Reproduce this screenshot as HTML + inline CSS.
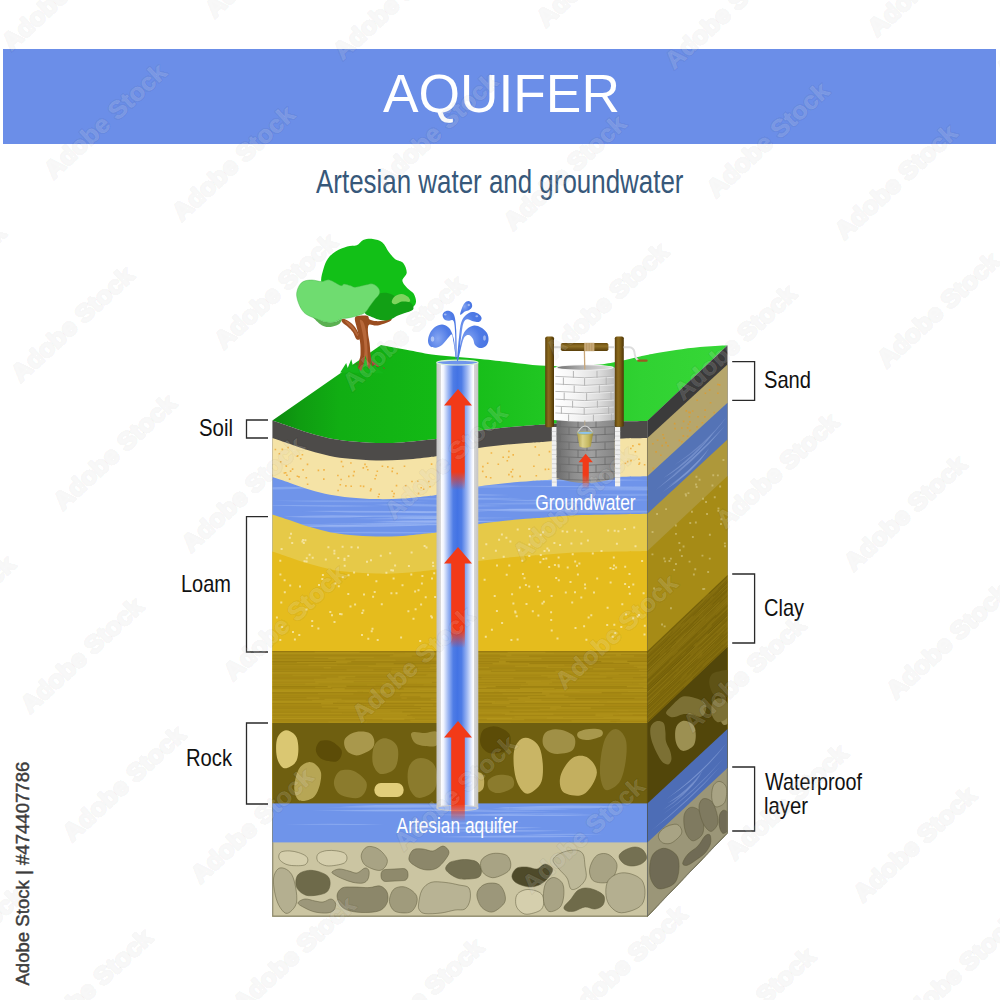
<!DOCTYPE html>
<html lang="en"><head><meta charset="utf-8"><title>Aquifer</title>
<style>html,body{margin:0;padding:0;background:#fff}svg{display:block}</style></head>
<body>
<svg width="1000" height="1000" viewBox="0 0 1000 1000">
<defs>

<linearGradient id="gGreen" gradientUnits="userSpaceOnUse" x1="272" y1="0" x2="728" y2="0">
 <stop offset="0" stop-color="#0c880f"/><stop offset="0.06" stop-color="#0f9c11"/><stop offset="0.15" stop-color="#11ae13"/><stop offset="0.37" stop-color="#13ba15"/><stop offset="0.59" stop-color="#20c622"/><stop offset="0.81" stop-color="#30d232"/><stop offset="1" stop-color="#37d737"/>
</linearGradient>
<linearGradient id="gTube" gradientUnits="userSpaceOnUse" x1="436.5" y1="0" x2="478.3" y2="0">
 <stop offset="0" stop-color="#c4c4c4"/><stop offset="0.095" stop-color="#d6d6d6"/><stop offset="0.105" stop-color="#ffffff"/>
 <stop offset="0.17" stop-color="#f0f4fe"/><stop offset="0.28" stop-color="#9db7f3"/><stop offset="0.4" stop-color="#4f7de6"/><stop offset="0.5" stop-color="#4373e4"/><stop offset="0.6" stop-color="#4f7de6"/>
 <stop offset="0.73" stop-color="#9db7f3"/><stop offset="0.85" stop-color="#f0f4fe"/><stop offset="0.893" stop-color="#ffffff"/><stop offset="0.905" stop-color="#d6d6d6"/><stop offset="1" stop-color="#c4c4c4"/>
</linearGradient>
<linearGradient id="gArrow" x1="0" y1="0" x2="0" y2="1">
 <stop offset="0" stop-color="#f23a18"/><stop offset="0.78" stop-color="#f23a18"/><stop offset="1" stop-color="#f23a18" stop-opacity="0"/>
</linearGradient>
<linearGradient id="gPost" x1="0" y1="0" x2="1" y2="0">
 <stop offset="0" stop-color="#5a3f0a"/><stop offset="0.35" stop-color="#8a6a1e"/><stop offset="0.6" stop-color="#7d5d16"/><stop offset="1" stop-color="#4e3606"/>
</linearGradient>
<linearGradient id="gLog" x1="0" y1="0" x2="0" y2="1">
 <stop offset="0" stop-color="#6a4c0e"/><stop offset="0.4" stop-color="#8f7026"/><stop offset="1" stop-color="#5a3f0a"/>
</linearGradient>

<clipPath id="cClay"><rect x="272.4" y="651" width="375.0" height="72"/></clipPath>
<clipPath id="cClayS"><path d="M647.4,651 L727.5,575 L727.5,647 L647.4,723Z"/></clipPath>
<clipPath id="cGW"><path d="M272.4,477 C275.3,478 283.7,480.8 290,482.9 C296.3,485.1 303.3,487.7 310,489.7 C316.7,491.6 323.3,493.5 330,494.8 C336.7,496.1 342.3,496.8 350,497.5 C357.7,498.3 367.2,499 376,499.1 C384.8,499.3 393.7,499.1 402.5,498.6 C411.3,498 423.2,496.5 428.8,495.9 C434.4,495.3 431.3,495.7 436,494.9 C440.7,494.1 449.9,492.4 457,491 C464.1,489.6 470.8,487.9 478.8,486.6 C486.8,485.3 496.3,484.2 505,483.3 C513.7,482.4 524.3,481.6 531,481.1 C537.7,480.6 538.5,480.6 545,480.1 C551.5,479.7 561.7,478.6 570,478.2 C578.3,477.7 586.2,477.5 595,477.3 C603.8,477 614.3,476.9 623,476.7 C631.7,476.5 643.3,476.3 647.4,476.2 L647.4,513.7 C643.3,513.8 631.7,514 623,514.2 C614.3,514.4 603.8,514.5 595,514.8 C586.2,515 578.3,515.2 570,515.6 C561.7,516.1 551.5,517.1 545,517.6 C538.5,518.1 537.7,518 531,518.6 C524.3,519.1 513.7,519.8 505,520.8 C496.3,521.7 486.8,522.8 478.8,524 C470.8,525.3 464.1,527 457,528.4 C449.9,529.8 440.7,531.6 436,532.4 C431.3,533.2 434.4,532.7 428.8,533.3 C423.2,533.9 411.3,535.4 402.5,536 C393.7,536.5 384.8,536.7 376,536.6 C367.2,536.4 357.7,535.7 350,535 C342.3,534.2 336.7,533.5 330,532.2 C323.3,530.9 316.7,529.1 310,527.1 C303.3,525.1 296.3,522.5 290,520.3 C283.7,518.2 275.3,515.4 272.4,514.4Z"/></clipPath>
<clipPath id="cRock"><rect x="272.4" y="723" width="375.0" height="80.4"/></clipPath>
<clipPath id="cRockS"><path d="M647.4,723 L727.5,647 L727.5,729 L647.4,803.4Z"/></clipPath>
<clipPath id="cBot"><rect x="272.4" y="842.4" width="375.0" height="74"/></clipPath>
<clipPath id="cBotS"><path d="M647.4,842.4 L727.5,768 L727.5,833 L647.4,916.4Z"/></clipPath>
<linearGradient id="gA0" gradientUnits="userSpaceOnUse" x1="0" y1="389" x2="0" y2="490"><stop offset="0" stop-color="#f23a18"/><stop offset="0.82" stop-color="#f23a18"/><stop offset="1" stop-color="#f23a18" stop-opacity="0"/></linearGradient>
<linearGradient id="gA1" gradientUnits="userSpaceOnUse" x1="0" y1="547" x2="0" y2="648"><stop offset="0" stop-color="#f23a18"/><stop offset="0.82" stop-color="#f23a18"/><stop offset="1" stop-color="#f23a18" stop-opacity="0"/></linearGradient>
<linearGradient id="gA2" gradientUnits="userSpaceOnUse" x1="0" y1="721" x2="0" y2="822"><stop offset="0" stop-color="#f23a18"/><stop offset="0.82" stop-color="#f23a18"/><stop offset="1" stop-color="#f23a18" stop-opacity="0"/></linearGradient>

<linearGradient id="gWhiteCyl" gradientUnits="userSpaceOnUse" x1="555.4" y1="0" x2="613.8" y2="0">
 <stop offset="0" stop-color="#ffffff"/><stop offset="0.35" stop-color="#f4f4f4"/><stop offset="0.75" stop-color="#dcdcdc"/><stop offset="1" stop-color="#bdbdbd"/>
</linearGradient>
<linearGradient id="gGrayCyl" gradientUnits="userSpaceOnUse" x1="556.6" y1="0" x2="614.8" y2="0">
 <stop offset="0" stop-color="#6c6c6c"/><stop offset="0.3" stop-color="#8e8e8e"/><stop offset="0.6" stop-color="#a0a0a0"/><stop offset="1" stop-color="#858585"/>
</linearGradient>
<linearGradient id="gRim" gradientUnits="userSpaceOnUse" x1="555.4" y1="0" x2="613.8" y2="0">
 <stop offset="0" stop-color="#6e6e6e"/><stop offset="0.5" stop-color="#b5b5b5"/><stop offset="1" stop-color="#e2e2e2"/>
</linearGradient>
<linearGradient id="gBucket" gradientUnits="userSpaceOnUse" x1="577" y1="0" x2="593.2" y2="0">
 <stop offset="0" stop-color="#a89a48"/><stop offset="0.35" stop-color="#ddd28a"/><stop offset="0.7" stop-color="#c5b862"/><stop offset="1" stop-color="#978838"/>
</linearGradient>
<linearGradient id="gWA" gradientUnits="userSpaceOnUse" x1="0" y1="453.8" x2="0" y2="489"><stop offset="0" stop-color="#f23a18"/><stop offset="0.6" stop-color="#f23a18"/><stop offset="1" stop-color="#f23a18" stop-opacity="0"/></linearGradient>

<radialGradient id="gDrop" cx="0.35" cy="0.4" r="0.8"><stop offset="0" stop-color="#86a6f2"/><stop offset="0.5" stop-color="#4f7be6"/><stop offset="1" stop-color="#4571e0"/></radialGradient>
</defs>
<rect x="3" y="49" width="993" height="95" fill="#6b8ee8"/>
<text x="501.4" y="111.5" font-family="'Liberation Sans', Arial, sans-serif" font-size="54" fill="#ffffff" text-anchor="middle" textLength="237" lengthAdjust="spacingAndGlyphs">AQUIFER</text>
<text x="316" y="192.6" font-family="'Liberation Sans', Arial, sans-serif" font-size="32.7" fill="#37587a" textLength="367.5" lengthAdjust="spacingAndGlyphs">Artesian water and groundwater</text>
<path d="M272.4,420.4 C275.3,421.4 283.7,424.3 290,426.4 C296.3,428.5 303.3,431.2 310,433.2 C316.7,435.2 323.3,437.1 330,438.4 C336.7,439.7 342.3,440.4 350,441.2 C357.7,441.9 367.2,442.7 376,442.9 C384.8,443.1 393.7,442.9 402.5,442.4 C411.3,441.9 423.2,440.4 428.8,439.8 C434.4,439.2 431.3,439.7 436,438.9 C440.7,438.1 449.9,436.4 457,435 C464.1,433.6 470.8,431.9 478.8,430.7 C486.8,429.4 496.3,428.4 505,427.5 C513.7,426.6 524.3,425.9 531,425.4 C537.7,424.9 538.5,425 545,424.5 C551.5,424 561.7,423.1 570,422.6 C578.3,422.2 586.2,422 595,421.8 C603.8,421.6 614.3,421.5 623,421.3 C631.7,421.1 643.3,421 647.4,420.9 L727.4,345.2 C722.8,345.5 708.6,346.2 700,347 C691.4,347.8 684,348.8 676,350 C668,351.2 658,352.9 652,354 C646,355.1 645.3,355.2 640,356.4 C634.7,357.6 626.7,359.6 620,361 C613.3,362.4 608.3,363.6 600,364.5 C591.7,365.4 580,366 570,366.2 C560,366.4 550,366.3 540,365.6 C530,364.9 520,363.3 510,362.2 C500,361.1 492.3,360.2 480,359 C467.7,357.8 447.7,356.4 436,355 C424.3,353.6 419.2,352.2 410,350.5 C400.8,348.8 385.8,345.9 381,345Z" fill="url(#gGreen)"/>
<path d="M272.4,420.4 C275.3,421.4 283.7,424.3 290,426.4 C296.3,428.5 303.3,431.2 310,433.2 C316.7,435.2 323.3,437.1 330,438.4 C336.7,439.7 342.3,440.4 350,441.2 C357.7,441.9 367.2,442.7 376,442.9 C384.8,443.1 393.7,442.9 402.5,442.4 C411.3,441.9 423.2,440.4 428.8,439.8 C434.4,439.2 431.3,439.7 436,438.9 C440.7,438.1 449.9,436.4 457,435 C464.1,433.6 470.8,431.9 478.8,430.7 C486.8,429.4 496.3,428.4 505,427.5 C513.7,426.6 524.3,425.9 531,425.4 C537.7,424.9 538.5,425 545,424.5 C551.5,424 561.7,423.1 570,422.6 C578.3,422.2 586.2,422 595,421.8 C603.8,421.6 614.3,421.5 623,421.3 C631.7,421.1 643.3,421 647.4,420.9 L647.4,916.4 L272.4,916.4Z" fill="#4d4b49"/>
<path d="M272.4,438 C275.3,439 283.7,441.9 290,444 C296.3,446.1 303.3,448.8 310,450.8 C316.7,452.7 323.3,454.6 330,455.9 C336.7,457.2 342.3,458 350,458.7 C357.7,459.4 367.2,460.2 376,460.4 C384.8,460.5 393.7,460.4 402.5,459.8 C411.3,459.3 423.2,457.8 428.8,457.2 C434.4,456.6 431.3,457.1 436,456.3 C440.7,455.5 449.9,453.7 457,452.4 C464.1,451 470.8,449.3 478.8,448 C486.8,446.8 496.3,445.7 505,444.8 C513.7,443.9 524.3,443.2 531,442.7 C537.7,442.2 538.5,442.2 545,441.7 C551.5,441.3 561.7,440.3 570,439.8 C578.3,439.3 586.2,439.2 595,439 C603.8,438.7 614.3,438.6 623,438.4 C631.7,438.3 643.3,438.1 647.4,438 L647.4,916.4 L272.4,916.4Z" fill="#f5e3a6"/>
<path d="M272.4,477 C275.3,478 283.7,480.8 290,482.9 C296.3,485.1 303.3,487.7 310,489.7 C316.7,491.6 323.3,493.5 330,494.8 C336.7,496.1 342.3,496.8 350,497.5 C357.7,498.3 367.2,499 376,499.1 C384.8,499.3 393.7,499.1 402.5,498.6 C411.3,498 423.2,496.5 428.8,495.9 C434.4,495.3 431.3,495.7 436,494.9 C440.7,494.1 449.9,492.4 457,491 C464.1,489.6 470.8,487.9 478.8,486.6 C486.8,485.3 496.3,484.2 505,483.3 C513.7,482.4 524.3,481.6 531,481.1 C537.7,480.6 538.5,480.6 545,480.1 C551.5,479.7 561.7,478.6 570,478.2 C578.3,477.7 586.2,477.5 595,477.3 C603.8,477 614.3,476.9 623,476.7 C631.7,476.5 643.3,476.3 647.4,476.2 L647.4,916.4 L272.4,916.4Z" fill="#6f94ea"/>
<path d="M272.4,514.4 C275.3,515.4 283.7,518.2 290,520.3 C296.3,522.5 303.3,525.1 310,527.1 C316.7,529.1 323.3,530.9 330,532.2 C336.7,533.5 342.3,534.2 350,535 C357.7,535.7 367.2,536.4 376,536.6 C384.8,536.7 393.7,536.5 402.5,536 C411.3,535.4 423.2,533.9 428.8,533.3 C434.4,532.7 431.3,533.2 436,532.4 C440.7,531.6 449.9,529.8 457,528.4 C464.1,527 470.8,525.3 478.8,524 C486.8,522.8 496.3,521.7 505,520.8 C513.7,519.8 524.3,519.1 531,518.6 C537.7,518 538.5,518.1 545,517.6 C551.5,517.1 561.7,516.1 570,515.6 C578.3,515.2 586.2,515 595,514.8 C603.8,514.5 614.3,514.4 623,514.2 C631.7,514 643.3,513.8 647.4,513.7 L647.4,916.4 L272.4,916.4Z" fill="#e6c948"/>
<path d="M272.4,551.4 C275.3,552.4 283.7,555.2 290,557.4 C296.3,559.5 303.3,562.1 310,564.1 C316.7,566.1 323.3,567.9 330,569.2 C336.7,570.6 342.3,571.3 350,572 C357.7,572.7 367.2,573.4 376,573.6 C384.8,573.8 393.7,573.6 402.5,573 C411.3,572.5 423.2,571 428.8,570.4 C434.4,569.8 431.3,570.3 436,569.5 C440.7,568.6 449.9,566.9 457,565.5 C464.1,564.1 470.8,562.4 478.8,561.1 C486.8,559.9 496.3,558.8 505,557.9 C513.7,557 524.3,556.2 531,555.7 C537.7,555.2 538.5,555.3 545,554.8 C551.5,554.3 561.7,553.3 570,552.8 C578.3,552.3 586.2,552.2 595,551.9 C603.8,551.7 614.3,551.5 623,551.4 C631.7,551.2 643.3,551 647.4,550.9 L647.4,916.4 L272.4,916.4Z" fill="#e5bc1d"/>
<rect x="272.4" y="651" width="375.0" height="265.4" fill="#ad8f17"/>
<rect x="272.4" y="723" width="375.0" height="193.39999999999998" fill="#6f5f10"/>
<rect x="272.4" y="803.4" width="375.0" height="113.0" fill="#6f94ea"/>
<rect x="272.4" y="842.4" width="375.0" height="74.0" fill="#cbc5a2"/>
<path d="M647.4,420.8 L727.5,345.2 L727.5,833 L647.4,916.4Z" fill="#3b3b3b"/>
<path d="M647.4,438 L727.5,364.4 L727.5,833 L647.4,916.4Z" fill="#b6a66c"/>
<path d="M647.4,476.2 L727.5,402.8 L727.5,833 L647.4,916.4Z" fill="#5473b6"/>
<path d="M647.4,513.7 L727.5,439.4 L727.5,833 L647.4,916.4Z" fill="#ae983a"/>
<path d="M647.4,550.9 L727.5,476 L727.5,833 L647.4,916.4Z" fill="#a68b16"/>
<path d="M647.4,651 L727.5,575 L727.5,833 L647.4,916.4Z" fill="#836c0d"/>
<path d="M647.4,723 L727.5,647 L727.5,833 L647.4,916.4Z" fill="#52460a"/>
<path d="M647.4,803.4 L727.5,729 L727.5,833 L647.4,916.4Z" fill="#4d6db6"/>
<path d="M647.4,842.4 L727.5,768 L727.5,833 L647.4,916.4Z" fill="#9b9678"/>
<path d="M482.1,465.8h1.6v1.6h-1.6zM508.1,450.6h1.6v1.6h-1.6zM387,466.1h1.6v1.6h-1.6zM638.8,462.2h1.6v1.6h-1.6zM280,461h1.6v1.6h-1.6zM296.5,455.4h1.6v1.6h-1.6zM364.2,463.6h1.6v1.6h-1.6zM511.9,468.7h1.6v1.6h-1.6zM377.6,496h1.6v1.6h-1.6zM643.8,463.9h1.6v1.6h-1.6zM391.4,470.6h1.6v1.6h-1.6zM381.6,465.5h1.6v1.6h-1.6zM422.9,488.4h1.6v1.6h-1.6zM417.8,492.6h1.6v1.6h-1.6zM274.6,448.7h1.6v1.6h-1.6zM638.1,443.5h1.6v1.6h-1.6zM507.9,456.3h1.6v1.6h-1.6zM306.7,463.6h1.6v1.6h-1.6zM632.1,445.1h1.6v1.6h-1.6zM365.8,466h1.6v1.6h-1.6zM296.6,475.5h1.6v1.6h-1.6zM340.3,478.7h1.6v1.6h-1.6zM345.1,485.1h1.6v1.6h-1.6zM323,478.3h1.6v1.6h-1.6zM317.6,469.6h1.6v1.6h-1.6zM353.4,470.8h1.6v1.6h-1.6zM634.6,451h1.6v1.6h-1.6zM352.6,474.8h1.6v1.6h-1.6zM370.2,488.3h1.6v1.6h-1.6zM396.4,472.7h1.6v1.6h-1.6zM301.6,453.9h1.6v1.6h-1.6zM497.5,463.5h1.6v1.6h-1.6zM630.2,459.8h1.6v1.6h-1.6zM342.2,465.7h1.6v1.6h-1.6zM367,469h1.6v1.6h-1.6zM548.7,450.8h1.6v1.6h-1.6zM626.9,460.8h1.6v1.6h-1.6zM430.8,463.3h1.6v1.6h-1.6zM288.8,478.3h1.6v1.6h-1.6zM362.8,485.6h1.6v1.6h-1.6zM369.7,490h1.6v1.6h-1.6zM339.5,483.9h1.6v1.6h-1.6zM299.9,457.9h1.6v1.6h-1.6zM481.9,470.6h1.6v1.6h-1.6zM378.4,493.4h1.6v1.6h-1.6zM350.1,462.2h1.6v1.6h-1.6zM374.3,477.9h1.6v1.6h-1.6zM296.8,455.1h1.6v1.6h-1.6zM411.2,480.7h1.6v1.6h-1.6zM323.2,469.1h1.6v1.6h-1.6zM638.2,463.4h1.6v1.6h-1.6zM287.4,446.7h1.6v1.6h-1.6zM534.5,446.1h1.6v1.6h-1.6zM510.4,471.1h1.6v1.6h-1.6zM392.7,495.7h1.6v1.6h-1.6zM302.3,469.1h1.6v1.6h-1.6zM547.8,468.4h1.6v1.6h-1.6zM535.5,475h1.6v1.6h-1.6zM404.9,485h1.6v1.6h-1.6zM429.2,486h1.6v1.6h-1.6zM486.9,462.5h1.6v1.6h-1.6zM490.6,452.2h1.6v1.6h-1.6zM511.6,475.8h1.6v1.6h-1.6zM544.6,468.6h1.6v1.6h-1.6zM489.9,476.9h1.6v1.6h-1.6zM305.5,476.9h1.6v1.6h-1.6zM285.5,465.3h1.6v1.6h-1.6zM359.8,485.2h1.6v1.6h-1.6zM502.4,456.4h1.6v1.6h-1.6zM278.6,453h1.6v1.6h-1.6zM337.3,489.7h1.6v1.6h-1.6zM519.3,475.6h1.6v1.6h-1.6zM395.7,484.8h1.6v1.6h-1.6zM348,475.6h1.6v1.6h-1.6zM417,480.4h1.6v1.6h-1.6zM391.8,467.5h1.6v1.6h-1.6zM538.3,454.2h1.6v1.6h-1.6zM337.1,474.7h1.6v1.6h-1.6zM376.5,470.4h1.6v1.6h-1.6zM428,480.7h1.6v1.6h-1.6zM391.4,490.5h1.6v1.6h-1.6zM638.7,443.6h1.6v1.6h-1.6zM286.1,474.4h1.6v1.6h-1.6zM289.8,470.3h1.6v1.6h-1.6zM281.5,448.6h1.6v1.6h-1.6zM283.6,472.2h1.6v1.6h-1.6zM362.5,467.1h1.6v1.6h-1.6zM291.8,468.3h1.6v1.6h-1.6zM508.1,473.8h1.6v1.6h-1.6zM630,447.7h1.6v1.6h-1.6zM340.7,460.8h1.6v1.6h-1.6zM375.4,474.7h1.6v1.6h-1.6zM533.1,465.5h1.6v1.6h-1.6zM420.4,486.9h1.6v1.6h-1.6zM306.8,483.4h1.6v1.6h-1.6zM506.5,459.9h1.6v1.6h-1.6zM485.4,476.1h1.6v1.6h-1.6zM624.7,462.4h1.6v1.6h-1.6zM350.4,485.4h1.6v1.6h-1.6zM512.4,454.1h1.6v1.6h-1.6zM638.2,458.5h1.6v1.6h-1.6zM393.3,492.8h1.6v1.6h-1.6zM403.7,465.4h1.6v1.6h-1.6zM284.9,471.9h1.6v1.6h-1.6zM298.2,476.1h1.6v1.6h-1.6z" fill="#f2ae3c" opacity="0.9"/>
<path d="M663.2,437.3h1.6v1.6h-1.6zM708.8,389.1h1.6v1.6h-1.6zM661.4,444.8h1.6v1.6h-1.6zM704,416.1h1.6v1.6h-1.6zM701.5,421.9h1.6v1.6h-1.6zM686.9,435.4h1.6v1.6h-1.6zM656.8,439.5h1.6v1.6h-1.6zM689.4,411.8h1.6v1.6h-1.6zM704.4,409.3h1.6v1.6h-1.6zM689.1,429.9h1.6v1.6h-1.6zM691.9,410.2h1.6v1.6h-1.6zM678.6,439.6h1.6v1.6h-1.6zM717.1,383.7h1.6v1.6h-1.6zM713.4,411.7h1.6v1.6h-1.6zM689.2,421.1h1.6v1.6h-1.6zM665.3,441.8h1.6v1.6h-1.6zM687.7,423.5h1.6v1.6h-1.6zM652.5,467.6h1.6v1.6h-1.6zM688.6,416h1.6v1.6h-1.6zM709.8,401.9h1.6v1.6h-1.6zM686.8,427.1h1.6v1.6h-1.6zM655.3,451.1h1.6v1.6h-1.6zM681.1,441h1.6v1.6h-1.6zM718.8,384.1h1.6v1.6h-1.6zM685.5,410.1h1.6v1.6h-1.6zM682.5,435.1h1.6v1.6h-1.6zM717.1,392.4h1.6v1.6h-1.6zM673.9,422.8h1.6v1.6h-1.6zM696.2,426.1h1.6v1.6h-1.6zM660,454.5h1.6v1.6h-1.6zM652.1,442.9h1.6v1.6h-1.6zM667.2,444.9h1.6v1.6h-1.6zM674.3,427.8h1.6v1.6h-1.6zM696.3,399.4h1.6v1.6h-1.6zM704.6,392.5h1.6v1.6h-1.6zM688.2,411.6h1.6v1.6h-1.6zM665.1,441.9h1.6v1.6h-1.6zM682.8,420.6h1.6v1.6h-1.6zM681,427.2h1.6v1.6h-1.6zM662.2,434h1.6v1.6h-1.6zM697.2,415.9h1.6v1.6h-1.6zM689.6,429.7h1.6v1.6h-1.6z" fill="#d99c34" opacity="0.9"/>
<path d="M501.1,622h2v2h-2zM361.3,611.9h2v2h-2zM574.5,627.1h2v2h-2zM392,569.6h2v2h-2zM615.9,542.8h2v2h-2zM643.8,624.8h2v2h-2zM324.8,558.4h2v2h-2zM543.5,550h2v2h-2zM311.2,620.1h2v2h-2zM431,616.5h2v2h-2zM321.9,573.9h2v2h-2zM528.2,527.9h2v2h-2zM349.5,605.5h2v2h-2zM611.7,635.7h2v2h-2zM318,584.1h2v2h-2zM555.2,577.1h2v2h-2zM528.4,543.5h2v2h-2zM301.4,540.4h2v2h-2zM289.2,584.6h2v2h-2zM485.3,543.2h2v2h-2zM343.5,557.8h2v2h-2zM585.4,638.7h2v2h-2zM617.4,530.2h2v2h-2zM298.3,633.9h2v2h-2zM557.6,556.5h2v2h-2zM434.1,595.9h2v2h-2zM280.3,601.5h2v2h-2zM586.9,539.5h2v2h-2zM548.2,565.9h2v2h-2zM347.4,554.9h2v2h-2zM281.1,626h2v2h-2zM571.2,601.4h2v2h-2zM593,591.6h2v2h-2zM424.7,596.3h2v2h-2zM638,613.9h2v2h-2zM370.7,630.3h2v2h-2zM550.1,611.2h2v2h-2zM576,564.7h2v2h-2zM606.2,623.9h2v2h-2zM531.8,610.2h2v2h-2zM557.8,565.5h2v2h-2zM542.1,531.2h2v2h-2zM401.5,584.2h2v2h-2zM279.3,559.8h2v2h-2zM511.1,593.2h2v2h-2zM361,633.9h2v2h-2zM521.2,559.7h2v2h-2zM518.9,586.4h2v2h-2zM419.2,640h2v2h-2zM512.4,602.5h2v2h-2zM556.5,637.4h2v2h-2zM283.8,591.3h2v2h-2zM548,549.4h2v2h-2zM423.6,545h2v2h-2zM347.5,574.2h2v2h-2zM311.7,556.8h2v2h-2zM609.6,581.6h2v2h-2zM632.3,583.6h2v2h-2zM642.6,592.3h2v2h-2zM574.1,529.5h2v2h-2zM495.9,610.1h2v2h-2zM292,631.1h2v2h-2zM334.4,582.6h2v2h-2zM337.8,585.3h2v2h-2zM500.9,533.5h2v2h-2zM624.2,565.7h2v2h-2zM496,564.5h2v2h-2zM380.8,603.2h2v2h-2zM482.3,557h2v2h-2zM539.8,554.1h2v2h-2zM280.6,547.9h2v2h-2zM291.2,541.9h2v2h-2zM553.9,563.9h2v2h-2zM606.6,606.7h2v2h-2zM293.9,638.6h2v2h-2zM623.9,528h2v2h-2zM609.5,566.9h2v2h-2zM634.5,545.2h2v2h-2zM621.3,603.3h2v2h-2zM636.6,615.5h2v2h-2zM498.1,538.8h2v2h-2zM505.7,573.8h2v2h-2zM350.5,546.2h2v2h-2zM321.3,578h2v2h-2zM521.9,573h2v2h-2zM372.1,595.7h2v2h-2zM430.2,615.2h2v2h-2zM643.5,633.6h2v2h-2zM546.4,547.5h2v2h-2zM317.4,627.4h2v2h-2zM564.8,591.6h2v2h-2zM407.9,565h2v2h-2zM528.2,585.5h2v2h-2zM493.7,595.1h2v2h-2zM553.4,542h2v2h-2zM367.3,637.8h2v2h-2zM613.3,623.8h2v2h-2zM290,532.8h2v2h-2zM375.4,580.2h2v2h-2zM505.4,536.8h2v2h-2zM302.1,538.9h2v2h-2zM524.9,583.9h2v2h-2zM508.3,564.4h2v2h-2zM353.1,571.5h2v2h-2zM550.2,619h2v2h-2zM302.8,542h2v2h-2zM574,591.2h2v2h-2zM559.1,544h2v2h-2zM432,561.8h2v2h-2zM574.2,560.5h2v2h-2zM516.6,638.6h2v2h-2zM395.5,592.2h2v2h-2zM550.7,629.6h2v2h-2zM433.2,572.3h2v2h-2zM311.2,625.1h2v2h-2zM304.4,539.3h2v2h-2zM483.6,578.7h2v2h-2zM528.3,555h2v2h-2zM561.6,530.3h2v2h-2zM354.1,603.4h2v2h-2zM305.6,560.6h2v2h-2zM542.9,600.8h2v2h-2zM379.8,554.7h2v2h-2zM407.4,610.3h2v2h-2zM410.6,551.4h2v2h-2zM537.1,585.7h2v2h-2zM614.3,631.9h2v2h-2zM612.4,567.9h2v2h-2zM571.7,553.3h2v2h-2zM392.6,577.6h2v2h-2zM620.3,625.9h2v2h-2zM367,573.8h2v2h-2zM410.3,573.4h2v2h-2zM421.4,575h2v2h-2zM347.3,593h2v2h-2zM569.5,581h2v2h-2zM584,583.5h2v2h-2zM340.6,613.3h2v2h-2zM600.5,550h2v2h-2zM283.6,579.3h2v2h-2zM484.8,635.8h2v2h-2zM515.7,615.2h2v2h-2zM299,585.6h2v2h-2zM566.2,530.7h2v2h-2zM305.5,608.5h2v2h-2zM607.2,529.4h2v2h-2zM509.4,540.4h2v2h-2zM550.6,595h2v2h-2zM366,560.8h2v2h-2zM557.8,579.2h2v2h-2zM557.6,564.2h2v2h-2zM400.1,636.5h2v2h-2zM523.5,577.3h2v2h-2zM541.4,602.6h2v2h-2zM613,564.6h2v2h-2zM580.3,596.5h2v2h-2zM590.3,614.3h2v2h-2zM583.1,625.2h2v2h-2zM628.8,592.7h2v2h-2zM537.4,614.5h2v2h-2zM431,577.6h2v2h-2zM329.3,610.9h2v2h-2zM641.1,560.1h2v2h-2zM337.3,557.1h2v2h-2zM432.2,564.9h2v2h-2zM633.2,526.6h2v2h-2zM389.2,552.2h2v2h-2zM514.5,611.6h2v2h-2zM341.6,545.8h2v2h-2zM490.9,628.7h2v2h-2zM288.8,536.7h2v2h-2zM343.5,559h2v2h-2zM362.3,609.4h2v2h-2zM494.9,549.7h2v2h-2zM343.7,564.8h2v2h-2zM339.1,613.1h2v2h-2zM390.4,592.2h2v2h-2zM576.9,573.5h2v2h-2zM371.5,627.7h2v2h-2zM612.8,556.6h2v2h-2zM628.5,573.1h2v2h-2zM357,546.4h2v2h-2zM625,613.5h2v2h-2zM417.5,589.2h2v2h-2zM376.7,638.9h2v2h-2zM518,549.2h2v2h-2zM279.4,573.4h2v2h-2zM412.5,617.7h2v2h-2zM538.6,590.1h2v2h-2zM333.4,552.5h2v2h-2zM394.1,564.5h2v2h-2zM596.2,577.5h2v2h-2zM510.4,639.1h2v2h-2zM373.7,590.9h2v2h-2zM331,614.2h2v2h-2zM275.9,616.4h2v2h-2zM587.6,616.4h2v2h-2zM305.8,557.3h2v2h-2zM539.8,533.8h2v2h-2zM628,585.9h2v2h-2zM591.8,552.6h2v2h-2zM566.7,566.4h2v2h-2zM613.7,529.8h2v2h-2zM580.3,542.5h2v2h-2zM333.5,621.1h2v2h-2zM390.3,569.2h2v2h-2zM303.5,560.3h2v2h-2zM539.3,561.2h2v2h-2zM528.9,535.3h2v2h-2zM420.9,582.4h2v2h-2zM632.2,617.2h2v2h-2zM516.7,528.5h2v2h-2zM414.6,608.3h2v2h-2zM363,593.6h2v2h-2zM279.3,638.9h2v2h-2zM570.4,542.6h2v2h-2zM502.7,555.8h2v2h-2zM414.1,590.6h2v2h-2zM385.4,571.8h2v2h-2zM420.1,603.5h2v2h-2zM370,559.2h2v2h-2zM545.3,557.5h2v2h-2zM624.1,583h2v2h-2zM542.5,557.9h2v2h-2zM580.5,530.8h2v2h-2zM327.4,546.2h2v2h-2zM525.5,603h2v2h-2zM341.8,576.3h2v2h-2zM584.2,587.2h2v2h-2zM308.6,553.7h2v2h-2zM333.4,549.7h2v2h-2zM425.5,546.5h2v2h-2zM615.1,566.6h2v2h-2zM514.2,610.5h2v2h-2zM578.4,562.4h2v2h-2z" fill="#f8e9ae" opacity="0.8"/>
<path d="M675,532.9h1.9v1.9h-1.9zM651.5,553.4h1.9v1.9h-1.9zM702.3,588.1h1.9v1.9h-1.9zM708.9,533.8h1.9v1.9h-1.9zM695.5,475.8h1.9v1.9h-1.9zM674.9,524.6h1.9v1.9h-1.9zM698.6,478.8h1.9v1.9h-1.9zM678.4,542h1.9v1.9h-1.9zM708.8,557.7h1.9v1.9h-1.9zM695.7,486h1.9v1.9h-1.9zM707.2,571.1h1.9v1.9h-1.9zM691,510.8h1.9v1.9h-1.9zM687.5,492.2h1.9v1.9h-1.9zM703.3,587.9h1.9v1.9h-1.9zM688.6,560.7h1.9v1.9h-1.9zM712.3,474.3h1.9v1.9h-1.9zM720.4,518.3h1.9v1.9h-1.9zM665.1,508.2h1.9v1.9h-1.9zM668.5,560.1h1.9v1.9h-1.9zM702.1,497.8h1.9v1.9h-1.9zM719.2,485.5h1.9v1.9h-1.9zM684.7,493.2h1.9v1.9h-1.9zM722.5,459.1h1.9v1.9h-1.9zM717.4,509.9h1.9v1.9h-1.9zM691.9,536h1.9v1.9h-1.9zM670,607.3h1.9v1.9h-1.9zM723.9,542.4h1.9v1.9h-1.9zM695,483.6h1.9v1.9h-1.9zM711.5,484.5h1.9v1.9h-1.9zM716.9,474.4h1.9v1.9h-1.9zM692.9,573.6h1.9v1.9h-1.9zM664.2,560.4h1.9v1.9h-1.9zM656.1,513.1h1.9v1.9h-1.9zM663.7,625.4h1.9v1.9h-1.9zM720,523.1h1.9v1.9h-1.9zM673.2,568.9h1.9v1.9h-1.9zM705.1,501.1h1.9v1.9h-1.9zM694.3,568.3h1.9v1.9h-1.9zM651.6,531h1.9v1.9h-1.9zM685.1,494.5h1.9v1.9h-1.9zM679,549.3h1.9v1.9h-1.9zM663.3,557.5h1.9v1.9h-1.9zM669.9,557.7h1.9v1.9h-1.9zM675,563h1.9v1.9h-1.9zM653.2,587.6h1.9v1.9h-1.9zM661.1,623.5h1.9v1.9h-1.9zM694.9,521.5h1.9v1.9h-1.9zM680.9,555h1.9v1.9h-1.9zM701.5,554.7h1.9v1.9h-1.9zM706.1,513h1.9v1.9h-1.9zM724.1,545.3h1.9v1.9h-1.9zM713.8,496.3h1.9v1.9h-1.9zM682.6,545.6h1.9v1.9h-1.9zM717.5,507.5h1.9v1.9h-1.9zM689.3,522h1.9v1.9h-1.9z" fill="#d8cc8a" opacity="0.6"/>
<g clip-path="url(#cClay)"><path d="M236.2,651.9h78.5M359.6,652.3h148M545.5,652.1h130.2" stroke="#8c700a" stroke-width="0.7" opacity="0.5" fill="none"/><path d="M237.5,653.3h156.7M405,653.3h149.2M595.3,653.5h152.8" stroke="#bc9e22" stroke-width="1.1" opacity="0.3" fill="none"/><path d="M263.5,654.9h129.6M447.8,655h51.8M511.4,655.1h104.5M621,654.7h69.3" stroke="#8c700a" stroke-width="0.9" opacity="0.3" fill="none"/><path d="M266.7,656h123.1M411.7,656.1h94.6M529.1,656.3h57.2M634,656h145.4" stroke="#8c700a" stroke-width="0.7" opacity="0.5" fill="none"/><path d="M253.5,657.6h60.6M373.9,657.4h64.2M453.6,657.1h145.6M610.1,657.2h127.1" stroke="#95790e" stroke-width="1" opacity="0.2" fill="none"/><path d="M234.9,658.5h93.4M345.6,658.9h76.9M438.2,658.6h61.7M541.5,658.7h134.9" stroke="#8c700a" stroke-width="1" opacity="0.3" fill="none"/><path d="M235.3,659.8h120M395.6,660.2h50.8M475.6,660h103.4M586.5,659.8h112" stroke="#8a6e08" stroke-width="0.7" opacity="0.3" fill="none"/><path d="M262.6,661.5h73.5M351.3,661.7h147.6M505.8,661.6h95.4M627.4,661.4h151.5" stroke="#8a6e08" stroke-width="1.1" opacity="0.5" fill="none"/><path d="M253.1,662.5h43.8M347.4,662.9h116.2M509.5,662.7h103.8" stroke="#8c700a" stroke-width="1" opacity="0.3" fill="none"/><path d="M241.5,664h134.4M393.8,663.7h98.7M529.4,663.6h99.9" stroke="#8c700a" stroke-width="0.9" opacity="0.5" fill="none"/><path d="M266.3,664.9h42.1M337.4,664.8h93M479.3,665.1h48.7M564.3,665.1h105.2" stroke="#8c700a" stroke-width="0.6" opacity="0.3" fill="none"/><path d="M239.6,666.5h128.6M415.3,666.4h99.8M548.2,666.2h85.5" stroke="#8a6e08" stroke-width="1.1" opacity="0.2" fill="none"/><path d="M257.8,667.9h66M331.1,667.7h98.7M489.1,667.6h57.3M592.4,667.4h44.7" stroke="#8c700a" stroke-width="0.7" opacity="0.4" fill="none"/><path d="M235,669h156.6M436,668.9h157.1M614.4,669.1h54.3" stroke="#8c700a" stroke-width="1.2" opacity="0.3" fill="none"/><path d="M233.2,669.8h113.3M373.6,669.8h118M515.5,670.3h123.4" stroke="#8c700a" stroke-width="0.9" opacity="0.3" fill="none"/><path d="M257.2,671.4h133.8M415,671.6h62M491.1,671.4h64.4M586.2,671.6h77" stroke="#8c700a" stroke-width="1.1" opacity="0.3" fill="none"/><path d="M269.5,672.7h123M412.5,672.6h42.2M474.2,673.1h87.2M605.7,672.7h72.2" stroke="#bc9e22" stroke-width="0.7" opacity="0.3" fill="none"/><path d="M267.6,674.6h159.8M457.1,674.3h142.5M618.8,674.5h145.4" stroke="#8a6e08" stroke-width="0.7" opacity="0.2" fill="none"/><path d="M248.6,675.3h43.8M320.7,675.2h105.3M469.9,675.5h71.2M582.7,675.2h57.7" stroke="#95790e" stroke-width="0.8" opacity="0.3" fill="none"/><path d="M263.4,676.9h75M355.3,676.7h44.9M439.8,677.2h107.9M606.4,677.1h75.8" stroke="#8c700a" stroke-width="0.9" opacity="0.3" fill="none"/><path d="M241.4,678.2h84.9M345.6,677.8h135.9M513.6,678.3h98.8M633.1,677.8h124.4" stroke="#8c700a" stroke-width="0.9" opacity="0.3" fill="none"/><path d="M262.8,679.3h51.2M342.2,679.5h58.1M443.9,679.5h106.4M556.5,679.3h87" stroke="#95790e" stroke-width="0.8" opacity="0.3" fill="none"/><path d="M260.4,681.2h126.3M395.7,680.9h44.2M465.5,681.2h75.7M594.9,680.9h117.1" stroke="#bc9e22" stroke-width="0.6" opacity="0.4" fill="none"/><path d="M269.4,682.1h45.7M353.8,681.8h47.6M432,682.4h93.9M552.1,682.2h136.5" stroke="#95790e" stroke-width="0.8" opacity="0.5" fill="none"/><path d="M264.7,683.2h67.4M350,683.1h40.1M416.8,683.1h68.7M526.3,683.2h105.8" stroke="#bc9e22" stroke-width="0.8" opacity="0.2" fill="none"/><path d="M240.2,684h65M318.7,683.8h63.1M405.1,684.2h122.7M549,683.9h89.8" stroke="#95790e" stroke-width="0.7" opacity="0.3" fill="none"/><path d="M265.3,685h101.6M375.4,684.9h48.2M467.4,685.1h53.5M568.4,685h97.7" stroke="#95790e" stroke-width="0.6" opacity="0.3" fill="none"/><path d="M240.5,686.6h87.1M346.5,686.4h125.9M495.7,686.7h131.1" stroke="#8a6e08" stroke-width="1.2" opacity="0.4" fill="none"/><path d="M242.8,687.3h72.3M331.1,687.4h114.5M486.5,687.5h156.9" stroke="#8c700a" stroke-width="0.8" opacity="0.3" fill="none"/><path d="M245.8,688.7h86.4M344.8,688.9h58.9M456.6,688.5h63.3M554.4,688.5h136.2" stroke="#8a6e08" stroke-width="1.1" opacity="0.3" fill="none"/><path d="M254.8,689.6h144.4M416.5,689.5h126.6M556,689.6h109.2" stroke="#bc9e22" stroke-width="1.1" opacity="0.2" fill="none"/><path d="M268.1,690.4h152M452,690.5h54.4M512.5,690.4h107.9" stroke="#bc9e22" stroke-width="0.8" opacity="0.2" fill="none"/><path d="M250.3,691.4h107.1M362.8,691.7h131.3M499.3,691.4h80.4M628.1,691.6h159" stroke="#bc9e22" stroke-width="1.1" opacity="0.3" fill="none"/><path d="M250.4,692.7h118.8M389.4,692.8h152.7M601.8,692.8h93.2" stroke="#8c700a" stroke-width="1.1" opacity="0.5" fill="none"/><path d="M245.4,693.6h72.5M353.5,693.9h47.6M454.8,693.8h47.6M549.6,693.8h71.8" stroke="#95790e" stroke-width="0.8" opacity="0.4" fill="none"/><path d="M241.7,695.2h158.3M457.3,695.6h88.3M564.3,695.2h149.2" stroke="#8c700a" stroke-width="0.8" opacity="0.4" fill="none"/><path d="M261.3,696.9h159.1M450.1,696.5h77.5M568.5,696.6h111.3" stroke="#8c700a" stroke-width="0.7" opacity="0.4" fill="none"/><path d="M245.2,697.9h61.3M319.3,698.1h82M406.9,698.1h100.3M529.9,698.4h104.5" stroke="#8c700a" stroke-width="0.8" opacity="0.4" fill="none"/><path d="M232.9,699.4h91.6M341.6,699.2h89M445.4,699.2h72.8M575.3,698.9h78.7" stroke="#8c700a" stroke-width="0.7" opacity="0.4" fill="none"/><path d="M246.6,700.4h65.5M365.9,700.4h142.8M541.5,700.1h108.1" stroke="#95790e" stroke-width="0.9" opacity="0.3" fill="none"/><path d="M252.3,701.9h85.1M344.7,701.9h150.4M525,701.6h74.1M607.1,701.9h79" stroke="#bc9e22" stroke-width="1" opacity="0.3" fill="none"/><path d="M232.8,703.6h88.3M333,703.4h158.8M509.7,703.5h140.8" stroke="#8c700a" stroke-width="1.1" opacity="0.4" fill="none"/><path d="M269.8,705.2h144.4M433,705h136.9M604.4,704.9h143.9" stroke="#8c700a" stroke-width="0.6" opacity="0.4" fill="none"/><path d="M252.8,706.8h69M373.8,706.6h132.5M561.1,706.4h135.6" stroke="#8c700a" stroke-width="0.8" opacity="0.5" fill="none"/><path d="M263.6,708.2h74.6M377,708.4h43.7M451.4,708h98.7M590.8,708.1h103.9" stroke="#8c700a" stroke-width="0.9" opacity="0.5" fill="none"/><path d="M239.7,709.7h124M420.7,709.3h119M556.3,709.3h132" stroke="#8c700a" stroke-width="0.7" opacity="0.2" fill="none"/><path d="M248,710.9h82.9M390.6,711.3h123M538.4,711.1h77.2M628.7,711.1h115.7" stroke="#95790e" stroke-width="0.8" opacity="0.2" fill="none"/><path d="M268.6,712.1h101.7M402.3,711.9h54.1M509.7,711.9h154.2" stroke="#8c700a" stroke-width="1.2" opacity="0.3" fill="none"/><path d="M248.3,713.3h93.8M370.2,713.6h73.8M501.5,713.7h75.2M618.6,713.6h69.4" stroke="#bc9e22" stroke-width="0.8" opacity="0.3" fill="none"/><path d="M237.2,714.3h132.3M410.6,714.4h94.4M553.5,714.3h41.9M632.9,714.9h123.7" stroke="#8c700a" stroke-width="1" opacity="0.2" fill="none"/><path d="M265.6,715.5h100.7M407.1,715.4h47.3M460.6,715.5h134.8M613,715.3h105" stroke="#95790e" stroke-width="1" opacity="0.4" fill="none"/><path d="M251.7,717.2h110.1M412.5,716.9h101.9M563,717.5h40.4M646.8,717.4h134.4" stroke="#95790e" stroke-width="1.1" opacity="0.2" fill="none"/><path d="M271.8,718.7h143.2M469.2,718.4h42.9M546.6,718.2h104" stroke="#bc9e22" stroke-width="1.2" opacity="0.4" fill="none"/><path d="M262.9,719.4h119.5M404.4,719.3h82.3M524.2,719.7h96" stroke="#8c700a" stroke-width="0.9" opacity="0.3" fill="none"/><path d="M268.2,720.8h142M468.6,720.9h103M610.3,721.3h143.7" stroke="#8c700a" stroke-width="0.7" opacity="0.4" fill="none"/><path d="M242.9,721.9h85.2M367.1,722h88.6M510.9,722.1h105.2" stroke="#95790e" stroke-width="0.8" opacity="0.2" fill="none"/></g>
<path d="M272.4,651.4 H647.4" stroke="#8a6c0c" stroke-width="0.8" opacity="0.7"/>
<g clip-path="url(#cClayS)"><path d="M646.3,653.1l56.3,-53.5M708.9,593.6l37,-35.1" stroke="#5f4f04" stroke-width="1.1" opacity="0.4" fill="none"/><path d="M638.4,662l32.8,-31.1M677,625.4l48.3,-45.8" stroke="#98821c" stroke-width="0.6" opacity="0.4" fill="none"/><path d="M640.9,661l30,-28.5M674.5,629.1l29,-27.5M712.4,593.2l22.3,-21.2" stroke="#98821c" stroke-width="0.8" opacity="0.3" fill="none"/><path d="M643.7,659.4l29.1,-27.7M681.1,623.9l25.4,-24.1M718.2,588.7l36.9,-35" stroke="#5a4a04" stroke-width="0.9" opacity="0.2" fill="none"/><path d="M643.8,660.9l26.1,-24.7M684.4,622.4l46.2,-43.9" stroke="#6a5808" stroke-width="0.9" opacity="0.4" fill="none"/><path d="M642.4,663.5l38.2,-36.3M692.5,616l17.4,-16.5M713,596.5l26.3,-25" stroke="#5a4a04" stroke-width="0.9" opacity="0.3" fill="none"/><path d="M641.7,665.3l19.4,-18.4M668.2,640.1l25.1,-23.9M698.6,611.3l16.5,-15.6M719,591.9l22,-20.9" stroke="#98821c" stroke-width="0.6" opacity="0.4" fill="none"/><path d="M641.2,666.8l39.8,-37.8M695.1,615.7l43.7,-41.5" stroke="#6a5808" stroke-width="0.9" opacity="0.2" fill="none"/><path d="M643.2,666.5l45.6,-43.3M703.6,609.3l56.3,-53.4" stroke="#5f4f04" stroke-width="0.8" opacity="0.4" fill="none"/><path d="M642.9,668.2l34.7,-32.9M681.1,631.9l29.4,-27.9M722.1,593.1l18.2,-17.3" stroke="#98821c" stroke-width="0.9" opacity="0.4" fill="none"/><path d="M646.2,666.1l29,-27.5M689.6,625l40.2,-38.2" stroke="#6a5808" stroke-width="0.6" opacity="0.3" fill="none"/><path d="M637.9,675.1l22,-20.9M665.5,649l33.3,-31.6M712.5,604.4l56.9,-54" stroke="#5a4a04" stroke-width="0.8" opacity="0.4" fill="none"/><path d="M639.6,674.9l19.7,-18.7M671,645.1l22.5,-21.3M703.1,614.6l24.1,-22.9" stroke="#6a5808" stroke-width="0.9" opacity="0.3" fill="none"/><path d="M640.6,675.7l35.4,-33.6M685.6,633l35.8,-34" stroke="#6a5808" stroke-width="0.8" opacity="0.5" fill="none"/><path d="M640.4,677.1l25.5,-24.2M671.3,647.8l47.9,-45.4" stroke="#98821c" stroke-width="1.1" opacity="0.4" fill="none"/><path d="M645,674l24.6,-23.3M683.4,637.6l17.9,-17M705.6,616.5l33.6,-31.9" stroke="#5a4a04" stroke-width="0.8" opacity="0.3" fill="none"/><path d="M646.4,674.4l28.8,-27.3M688.2,634.7l16.6,-15.7M715.8,608.5l40.6,-38.5" stroke="#98821c" stroke-width="0.8" opacity="0.3" fill="none"/><path d="M643.8,678.7l28.6,-27.1M677.6,646.6l22,-20.9M714.5,611.6l53.8,-51" stroke="#98821c" stroke-width="0.7" opacity="0.4" fill="none"/><path d="M638.4,685.3l56.6,-53.7M705.9,621.3l31.4,-29.8" stroke="#98821c" stroke-width="0.9" opacity="0.4" fill="none"/><path d="M646.3,679.7l31.1,-29.5M681.6,646.2l55,-52.2" stroke="#98821c" stroke-width="0.7" opacity="0.2" fill="none"/><path d="M644.7,682.7l27.8,-26.4M678.1,651l37.9,-36" stroke="#6a5808" stroke-width="1" opacity="0.4" fill="none"/><path d="M646.5,682.1l51,-48.4M701.6,629.8l48.8,-46.3" stroke="#5f4f04" stroke-width="1" opacity="0.3" fill="none"/><path d="M638,691.2l31.3,-29.7M681.6,649.9l25.5,-24.2M715,618.2l31.7,-30.1" stroke="#5f4f04" stroke-width="0.7" opacity="0.4" fill="none"/><path d="M646.6,684.8l39.7,-37.7M695.9,638.1l56.7,-53.8" stroke="#98821c" stroke-width="1.1" opacity="0.2" fill="none"/><path d="M646.2,686.7l59.5,-56.5M711.7,624.6l54.2,-51.5" stroke="#5f4f04" stroke-width="0.7" opacity="0.3" fill="none"/><path d="M638.4,695.3l58.8,-55.8M711.9,625.5l56.4,-53.5" stroke="#5a4a04" stroke-width="0.9" opacity="0.3" fill="none"/><path d="M643.9,691.6l37.5,-35.5M685.9,651.7l46.7,-44.3" stroke="#5a4a04" stroke-width="0.7" opacity="0.4" fill="none"/><path d="M638,698.2l55.4,-52.6M696.6,642.6l55.5,-52.6" stroke="#6a5808" stroke-width="1" opacity="0.5" fill="none"/><path d="M637.9,700.1l56.6,-53.7M707.7,633.9l57.1,-54.2" stroke="#5a4a04" stroke-width="1" opacity="0.5" fill="none"/><path d="M638.4,701.2l29.2,-27.7M671.9,669.4l49.6,-47.1M725.5,618.5l56.1,-53.2" stroke="#98821c" stroke-width="1" opacity="0.5" fill="none"/><path d="M647.1,694l52.3,-49.7M710.4,633.9l38.4,-36.4" stroke="#5f4f04" stroke-width="0.6" opacity="0.2" fill="none"/><path d="M637.6,704.6l52.5,-49.8M697.4,647.9l30.1,-28.6" stroke="#5f4f04" stroke-width="1" opacity="0.3" fill="none"/><path d="M643.7,699.9l47.5,-45.1M700,646.5l30.8,-29.3" stroke="#5a4a04" stroke-width="0.7" opacity="0.2" fill="none"/><path d="M642.6,702.2l50.3,-47.7M699.2,648.5l25.7,-24.4" stroke="#98821c" stroke-width="0.9" opacity="0.4" fill="none"/><path d="M647.2,699.4l29,-27.5M679,669.2l37.9,-36" stroke="#6a5808" stroke-width="0.9" opacity="0.4" fill="none"/><path d="M646.6,701.4l49.4,-46.8M701.1,649.6l24.8,-23.5" stroke="#6a5808" stroke-width="0.8" opacity="0.3" fill="none"/><path d="M637.5,711.9l32.4,-30.8M673.7,677.5l50.5,-47.9" stroke="#98821c" stroke-width="1.1" opacity="0.3" fill="none"/><path d="M641.8,709.6l57.5,-54.5M702.1,652.3l58.8,-55.8" stroke="#5f4f04" stroke-width="0.8" opacity="0.3" fill="none"/><path d="M638.3,714l21.5,-20.4M664.4,689.2l54.5,-51.7" stroke="#98821c" stroke-width="0.8" opacity="0.5" fill="none"/><path d="M640.3,713.2l57.6,-54.6M702.3,654.4l21.1,-20" stroke="#5a4a04" stroke-width="0.8" opacity="0.4" fill="none"/><path d="M645.9,709.7l54.2,-51.4M714.9,644.2l47.6,-45.2" stroke="#5f4f04" stroke-width="0.8" opacity="0.3" fill="none"/><path d="M642.1,714.4l39.3,-37.3M690.8,668.2l49.3,-46.8" stroke="#5f4f04" stroke-width="0.6" opacity="0.3" fill="none"/><path d="M644.3,713.4l49.2,-46.7M707.6,653.4l37.7,-35.7" stroke="#98821c" stroke-width="0.9" opacity="0.2" fill="none"/><path d="M638.5,720.4l41.9,-39.8M686.9,674.4l59.9,-56.8" stroke="#5f4f04" stroke-width="0.7" opacity="0.5" fill="none"/><path d="M647.2,714l49.3,-46.8M703.7,660.4l17.3,-16.4M725.1,640l22.8,-21.6" stroke="#6a5808" stroke-width="1.1" opacity="0.2" fill="none"/><path d="M637.8,724.3l42.5,-40.4M683.2,681.2l16.1,-15.3M705.7,659.8l22.5,-21.3" stroke="#98821c" stroke-width="0.7" opacity="0.4" fill="none"/><path d="M642.7,721l43.1,-40.9M691.9,674.3l31,-29.5" stroke="#5f4f04" stroke-width="0.9" opacity="0.3" fill="none"/><path d="M644.8,720.5l57.7,-54.8M710.9,657.7l45.5,-43.2" stroke="#6a5808" stroke-width="0.8" opacity="0.4" fill="none"/><path d="M639.7,727.1l57,-54.1M702.8,667.3l40,-37.9" stroke="#98821c" stroke-width="0.7" opacity="0.2" fill="none"/><path d="M643.9,724.8l40.2,-38.1M692.6,678.6l56.5,-53.6" stroke="#5a4a04" stroke-width="0.9" opacity="0.4" fill="none"/><path d="M642.4,727.6l53.1,-50.4M704.9,668.3l17.5,-16.6" stroke="#5a4a04" stroke-width="0.6" opacity="0.2" fill="none"/></g>
<g clip-path="url(#cGW)"><path d="M461.1,509.8 Q530.6,507.8 600.1,510.3 Q530.6,512.8 461.1,509.8Z" fill="#a9c2f8" opacity="0.5"/><path d="M262.1,524.5 Q315.1,523.4 368,525.4 Q315.1,527.5 262.1,524.5Z" fill="#a9c2f8" opacity="0.3"/><path d="M409.5,512.6 Q449.3,509.5 489.1,511.4 Q449.3,513.3 409.5,512.6Z" fill="#a9c2f8" opacity="0.3"/><path d="M346,523.8 Q426,523.2 506,524.5 Q426,525.7 346,523.8Z" fill="#a9c2f8" opacity="0.3"/><path d="M459.2,487 Q491.8,483.9 524.5,486.3 Q491.8,488.7 459.2,487Z" fill="#a9c2f8" opacity="0.3"/><path d="M581.5,487.9 Q658.9,485.4 736.2,488 Q658.9,490.5 581.5,487.9Z" fill="#a9c2f8" opacity="0.4"/><path d="M321,523.6 Q402.5,522 483.9,524.6 Q402.5,527.1 321,523.6Z" fill="#a9c2f8" opacity="0.3"/><path d="M373.4,504.8 Q408.4,503.2 443.3,504.3 Q408.4,505.4 373.4,504.8Z" fill="#a9c2f8" opacity="0.4"/><path d="M253.5,505.3 Q319.2,504.6 384.9,506.1 Q319.2,507.6 253.5,505.3Z" fill="#a9c2f8" opacity="0.4"/><path d="M358.2,523.1 Q412.1,523.2 465.9,524.3 Q412.1,525.4 358.2,523.1Z" fill="#a9c2f8" opacity="0.3"/><path d="M503.6,480.4 Q579.3,477.9 655,480.1 Q579.3,482.4 503.6,480.4Z" fill="#a9c2f8" opacity="0.4"/><path d="M255.4,488.7 Q283.2,485.4 311,488 Q283.2,490.5 255.4,488.7Z" fill="#a9c2f8" opacity="0.4"/><path d="M563.8,489.8 Q645.4,488.3 726.9,489.8 Q645.4,491.4 563.8,489.8Z" fill="#a9c2f8" opacity="0.4"/><path d="M288.6,526.7 Q358.5,523.2 428.4,525.6 Q358.5,528 288.6,526.7Z" fill="#a9c2f8" opacity="0.5"/><path d="M282.9,516.8 Q328.4,513.9 373.8,516.4 Q328.4,518.9 282.9,516.8Z" fill="#a9c2f8" opacity="0.5"/><path d="M435,499.2 Q478.8,496.9 522.5,498.2 Q478.8,499.5 435,499.2Z" fill="#a9c2f8" opacity="0.3"/><path d="M483.3,485.7 Q568.1,485.8 652.9,486.9 Q568.1,488 483.3,485.7Z" fill="#a9c2f8" opacity="0.4"/><path d="M388.4,517.8 Q427.6,515.4 466.9,517.7 Q427.6,520.1 388.4,517.8Z" fill="#a9c2f8" opacity="0.4"/><path d="M271.1,500.7 Q351,499.7 431,501.5 Q351,503.3 271.1,500.7Z" fill="#a9c2f8" opacity="0.3"/><path d="M497.5,500.9 Q579.5,497.7 661.5,500 Q579.5,502.3 497.5,500.9Z" fill="#a9c2f8" opacity="0.4"/><path d="M302.4,510.9 Q378.1,510.4 453.8,512.1 Q378.1,513.9 302.4,510.9Z" fill="#a9c2f8" opacity="0.5"/><path d="M579.4,494.9 Q631.6,492.6 683.8,494.8 Q631.6,497 579.4,494.9Z" fill="#a9c2f8" opacity="0.3"/><path d="M387.7,511.2 Q421.5,509.7 455.3,512.3 Q421.5,514.9 387.7,511.2Z" fill="#a9c2f8" opacity="0.4"/><path d="M419.7,494.3 Q465,493.6 510.3,495 Q465,496.5 419.7,494.3Z" fill="#a9c2f8" opacity="0.5"/><path d="M373.4,521 Q445.6,519.3 517.8,521.4 Q445.6,523.5 373.4,521Z" fill="#a9c2f8" opacity="0.4"/><path d="M374.1,505.3 Q441.4,504.2 508.7,505.9 Q441.4,507.7 374.1,505.3Z" fill="#a9c2f8" opacity="0.4"/><path d="M350.8,519.1 Q432.6,516 514.3,517.9 Q432.6,519.9 350.8,519.1Z" fill="#a9c2f8" opacity="0.4"/><path d="M336.4,516 Q401.7,514.1 467,516.4 Q401.7,518.7 336.4,516Z" fill="#a9c2f8" opacity="0.4"/><path d="M368.9,522 Q432.6,519.4 496.2,521.7 Q432.6,524 368.9,522Z" fill="#a9c2f8" opacity="0.5"/><path d="M543.8,511.7 Q610.1,509.2 676.4,511.7 Q610.1,514.2 543.8,511.7Z" fill="#a9c2f8" opacity="0.4"/><path d="M308.1,532.3 Q383.3,531 458.5,532.8 Q383.3,534.5 308.1,532.3Z" fill="#a9c2f8" opacity="0.4"/><path d="M497.1,509.1 Q532.4,507.6 567.7,509.5 Q532.4,511.5 497.1,509.1Z" fill="#a9c2f8" opacity="0.4"/><path d="M461.4,504.3 Q532.8,501 604.3,503.2 Q532.8,505.3 461.4,504.3Z" fill="#a9c2f8" opacity="0.3"/><path d="M400.2,498.8 Q464.2,497.1 528.2,499.2 Q464.2,501.3 400.2,498.8Z" fill="#a9c2f8" opacity="0.3"/></g>
<path d="M285.2,824.2 Q334.8,823.1 384.5,824.4 Q334.8,825.7 285.2,824.2Z" fill="#a9c2f8" opacity="0.4"/><path d="M322.1,807.8 Q396.4,806 470.7,807.3 Q396.4,808.7 322.1,807.8Z" fill="#a9c2f8" opacity="0.3"/><path d="M491.5,808.8 Q532.1,807.5 572.7,809.3 Q532.1,811.1 491.5,808.8Z" fill="#a9c2f8" opacity="0.4"/><path d="M437.3,837 Q515.6,834.4 593.8,836.4 Q515.6,838.4 437.3,837Z" fill="#a9c2f8" opacity="0.5"/><path d="M335.3,810.6 Q416.4,808.3 497.4,810 Q416.4,811.7 335.3,810.6Z" fill="#a9c2f8" opacity="0.5"/><path d="M393.7,810.3 Q473.7,809.9 553.7,811.2 Q473.7,812.5 393.7,810.3Z" fill="#a9c2f8" opacity="0.5"/><path d="M392.5,828.1 Q467.6,825.4 542.7,827.8 Q467.6,830.2 392.5,828.1Z" fill="#a9c2f8" opacity="0.5"/><path d="M521.4,835 Q562.5,832.7 603.7,834.3 Q562.5,836 521.4,835Z" fill="#a9c2f8" opacity="0.4"/><path d="M428,814.8 Q512.3,813.7 596.5,815.4 Q512.3,817.1 428,814.8Z" fill="#a9c2f8" opacity="0.5"/><path d="M443,831.1 Q503.6,828.9 564.1,830.8 Q503.6,832.7 443,831.1Z" fill="#a9c2f8" opacity="0.5"/><path d="M339.8,806.5 Q404.4,802.8 469,805.7 Q404.4,808.5 339.8,806.5Z" fill="#a9c2f8" opacity="0.5"/><path d="M497.7,807.7 Q562.7,803.9 627.7,806.9 Q562.7,809.8 497.7,807.7Z" fill="#a9c2f8" opacity="0.5"/><path d="M311.5,810.3 Q371.7,808.8 431.9,810.9 Q371.7,812.9 311.5,810.3Z" fill="#a9c2f8" opacity="0.3"/><path d="M469.2,815.2 Q506.4,812.1 543.6,813.9 Q506.4,815.7 469.2,815.2Z" fill="#a9c2f8" opacity="0.3"/><path d="M420.5,824 Q471.7,820.6 522.9,822.7 Q471.7,824.7 420.5,824Z" fill="#a9c2f8" opacity="0.3"/><path d="M525.3,813.6 Q559.9,812.8 594.5,814.2 Q559.9,815.6 525.3,813.6Z" fill="#a9c2f8" opacity="0.3"/>
<path d="M674.4,465 Q704.3,444.9 726.5,417.1 Q706,446.6 674.4,465Z" fill="#90a8de" opacity="0.4"/><path d="M662.6,491.9 Q688.3,472.5 709.5,448.5 Q690.7,474.9 662.6,491.9Z" fill="#90a8de" opacity="0.5"/><path d="M667,486.9 Q691.7,470.7 709.5,447.6 Q694.2,473.2 667,486.9Z" fill="#90a8de" opacity="0.3"/><path d="M663.6,478 Q692.5,457.3 715.3,430.4 Q694.8,459.6 663.6,478Z" fill="#90a8de" opacity="0.5"/><path d="M666,479.9 Q698.8,454.5 726.5,424 Q700,455.7 666,479.9Z" fill="#90a8de" opacity="0.3"/><path d="M655.4,490.3 Q692.2,460.2 725,426.1 Q694.7,462.7 655.4,490.3Z" fill="#90a8de" opacity="0.5"/>
<path d="M668.8,797.3 Q701.1,774 726.5,743.6 Q702.4,775.2 668.8,797.3Z" fill="#90a8de" opacity="0.3"/><path d="M651.4,830.5 Q688,800.3 720.6,766.2 Q689.5,801.9 651.4,830.5Z" fill="#90a8de" opacity="0.5"/><path d="M667.6,803.2 Q688.2,790 702.7,770.7 Q690.6,792.4 667.6,803.2Z" fill="#90a8de" opacity="0.5"/><path d="M665.9,799.4 Q699.7,774.7 726.5,743.1 Q701.3,776.3 665.9,799.4Z" fill="#90a8de" opacity="0.5"/><path d="M662.9,810.1 Q684.1,794.5 701,774.7 Q686.1,796.5 662.9,810.1Z" fill="#90a8de" opacity="0.4"/><path d="M662.1,815 Q695.6,789.7 723.1,758.4 Q697.1,791.2 662.1,815Z" fill="#90a8de" opacity="0.4"/>
<g clip-path="url(#cRock)"><path d="M298.4,749 C298.4,752.9 297.9,757.7 296.6,760.6 C295.3,763.5 292.6,765.3 290.4,766.5 C288.2,767.8 285.4,769 283.3,768 C281.2,766.9 279,763.3 277.8,760.2 C276.6,757 276.1,752.8 276.1,749 C276,745.2 276.3,740.5 277.5,737.5 C278.7,734.5 281.3,731.9 283.5,730.9 C285.6,729.9 288.2,730.4 290.4,731.5 C292.6,732.5 295.3,734.5 296.6,737.4 C297.9,740.3 298.4,745.1 298.4,749Z" fill="#dac772"/><path d="M340.9,756.7 C340.1,758.6 338.5,760.7 336.4,761.4 C334.3,762.1 331.1,761.6 328.4,761.1 C325.7,760.6 322.4,759.8 320.4,758.2 C318.3,756.6 316.7,753.8 316.1,751.7 C315.5,749.6 316,747.3 316.8,745.5 C317.6,743.7 318.9,741.5 320.9,740.7 C322.9,739.9 326.3,740 328.8,740.6 C331.4,741.2 334.1,742.7 336.2,744.4 C338.3,746 340.8,748.2 341.6,750.3 C342.3,752.4 341.8,754.9 340.9,756.7Z" fill="#5c4c07"/><path d="M374.1,739.8 C374.6,742.1 374.5,745.1 373.1,747.2 C371.8,749.4 368.5,751.2 365.7,752.5 C363,753.9 359.4,755.4 356.5,755.4 C353.6,755.3 350.2,753.8 348.2,752.3 C346.2,750.7 345.1,748.3 344.5,746.1 C344,743.8 343.7,740.9 345,738.8 C346.2,736.7 349.3,734.4 352.1,733.2 C354.8,732 358.3,731.5 361.3,731.6 C364.3,731.6 368.1,732 370.2,733.4 C372.3,734.7 373.6,737.5 374.1,739.8Z" fill="#a9984c"/><path d="M398.1,757.2 C397.8,760.8 396.9,765.3 395.1,767.9 C393.3,770.6 390.2,772 387.5,772.9 C384.8,773.8 381.5,774.7 379.2,773.5 C376.8,772.3 374.6,768.7 373.4,765.6 C372.3,762.5 372.1,758.5 372.4,754.9 C372.6,751.3 373.3,746.9 375,744.2 C376.7,741.5 379.9,739.3 382.4,738.6 C385,737.9 388,738.6 390.4,739.8 C392.8,741 395.7,743.1 397,746 C398.3,748.9 398.5,753.5 398.1,757.2Z" fill="#8e7e30"/><path d="M411,735 C410.8,733.2 411.7,732.3 414,732 C416.3,731.7 421.2,733 425,733 C428.8,733 435,730 437,732 C439,734 439,742.7 437,745 C435,747.3 428.7,746.3 425,746 C421.3,745.7 417.3,744.8 415,743 C412.7,741.2 411.2,736.8 411,735Z" fill="#9c8c3e"/><path d="M319.8,784.9 C318.7,788.8 316.9,793.6 314.6,796.2 C312.4,798.8 309.1,799.8 306.3,800.4 C303.6,801 300.2,801.5 298.2,799.8 C296.2,798.1 294.8,793.8 294.4,790.3 C293.9,786.7 294.6,782.3 295.5,778.4 C296.5,774.6 298.1,769.8 300.2,767.1 C302.4,764.4 305.9,762.6 308.5,762.2 C311.1,761.8 313.8,763 315.9,764.8 C318,766.5 320.3,769.2 321,772.6 C321.6,775.9 320.8,781 319.8,784.9Z" fill="#b7a655"/><path d="M365.4,791.2 C364.2,793.7 362.1,796.5 359.4,797.6 C356.8,798.6 352.7,798.1 349.3,797.5 C346,796.9 341.8,796 339.3,794 C336.7,792 334.8,788.2 334.2,785.4 C333.5,782.6 334.1,779.6 335.2,777.1 C336.3,774.6 338.1,771.7 340.6,770.6 C343.2,769.4 347.5,769.4 350.7,770.1 C353.9,770.8 357.3,772.7 359.9,774.8 C362.5,776.9 365.6,779.8 366.5,782.5 C367.4,785.2 366.6,788.7 365.4,791.2Z" fill="#8b7b2d"/><rect x="374.4" y="783" width="29.2" height="14" rx="6.4" ry="6.6" fill="#e1cd7a"/><path d="M437,777.6 C437,781.7 436.4,786.8 434.6,789.8 C432.9,792.9 429.4,794.8 426.5,796.1 C423.6,797.3 419.9,798.7 417.1,797.6 C414.4,796.5 411.5,792.7 409.9,789.4 C408.3,786 407.7,781.6 407.6,777.6 C407.5,773.6 407.9,768.7 409.5,765.5 C411.1,762.3 414.5,759.6 417.4,758.6 C420.2,757.5 423.6,758 426.5,759.1 C429.4,760.3 432.9,762.3 434.6,765.4 C436.4,768.4 437,773.5 437,777.6Z" fill="#8b7b2d"/><path d="M510.4,742.7 C509.9,745.4 508.6,748.7 506.5,750.5 C504.3,752.2 500.6,752.8 497.4,753.2 C494.3,753.5 490.4,753.7 487.7,752.5 C484.9,751.2 482.4,748.2 481.2,745.7 C479.9,743.2 479.8,740.1 480.3,737.4 C480.7,734.7 481.6,731.5 483.6,729.6 C485.7,727.8 489.5,726.6 492.5,726.4 C495.5,726.2 499,727.2 501.8,728.5 C504.6,729.7 507.9,731.7 509.4,734.1 C510.8,736.5 510.8,740 510.4,742.7Z" fill="#5c4c07"/><path d="M484.2,782 C484.2,784 484,786.6 483.4,788.1 C482.8,789.7 481.6,790.6 480.6,791.2 C479.5,791.9 478.3,792.5 477.3,792 C476.4,791.4 475.3,789.5 474.8,787.9 C474.2,786.2 474,784 474,782 C474,780 474.1,777.5 474.7,775.9 C475.2,774.4 476.4,773 477.4,772.5 C478.4,772 479.6,772.2 480.6,772.8 C481.6,773.3 482.8,774.3 483.4,775.9 C484,777.4 484.2,780 484.2,782Z" fill="#c2ae5e"/><path d="M514.1,781.7 C514.3,783.5 514.1,785.9 512.7,787.5 C511.3,789 508.3,790.3 505.8,791.3 C503.3,792.2 500,793.3 497.5,793.1 C494.9,793 492.1,791.7 490.4,790.4 C488.8,789.1 488,787.2 487.7,785.4 C487.4,783.7 487.4,781.4 488.6,779.8 C489.9,778.2 492.8,776.5 495.2,775.7 C497.7,774.9 500.8,774.7 503.5,774.8 C506.1,775 509.4,775.4 511.2,776.6 C512.9,777.7 513.8,779.9 514.1,781.7Z" fill="#8b7b2d"/><path d="M542.8,764 C543.2,769.7 543,776.8 541.6,781.2 C540.2,785.6 537,788.5 534.2,790.5 C531.5,792.5 528,794.6 525.2,793.2 C522.3,791.9 519.1,786.8 517.2,782.3 C515.3,777.7 514.3,771.5 513.8,766 C513.4,760.4 513.2,753.5 514.5,748.9 C515.8,744.4 518.9,740.4 521.6,738.8 C524.3,737.1 527.7,737.5 530.6,738.9 C533.6,740.3 537.2,742.9 539.2,747.1 C541.3,751.2 542.4,758.3 542.8,764Z" fill="#c9b565"/><path d="M575.2,743.9 C574.9,746.4 573.7,749.5 571.5,751.1 C569.3,752.7 565.3,753.3 562,753.6 C558.7,754 554.5,754.2 551.5,753.1 C548.5,752 545.6,749.2 544.1,746.9 C542.7,744.6 542.4,741.8 542.6,739.4 C542.9,736.9 543.7,733.9 545.8,732.2 C547.9,730.5 551.9,729.4 555.1,729.2 C558.3,729 562.1,729.8 565.2,731 C568.3,732.1 572,733.9 573.7,736.1 C575.3,738.2 575.6,741.4 575.2,743.9Z" fill="#a09046"/><path d="M602.9,732.8 C603,733.9 602.6,735.3 601.2,736.3 C599.7,737.3 596.8,738.1 594.3,738.7 C591.7,739.4 588.6,740.1 586.1,740 C583.6,740 581,739.2 579.5,738.5 C578,737.7 577.4,736.6 577.2,735.5 C577,734.5 577.2,733.1 578.5,732.1 C579.9,731.1 582.8,730.1 585.2,729.5 C587.7,729 590.7,728.8 593.2,728.8 C595.8,728.9 598.9,729.1 600.5,729.8 C602.1,730.4 602.8,731.7 602.9,732.8Z" fill="#a8984c"/><path d="M592.2,784.9 C590,788.6 586.5,792.8 583.1,794.5 C579.7,796.2 575.4,795.8 571.9,795.3 C568.4,794.7 564.2,793.7 562.2,791.1 C560.2,788.4 559.5,783.3 559.9,779.4 C560.2,775.4 562.1,771.1 564.3,767.5 C566.5,763.8 569.6,759.6 572.9,757.7 C576.3,755.8 581,755.4 584.3,756.2 C587.6,756.9 590.5,759.4 592.6,762.1 C594.7,764.8 596.9,768.7 596.9,772.5 C596.8,776.3 594.5,781.2 592.2,784.9Z" fill="#c3af5f"/><path d="M625.7,761 C624.8,767.2 623.2,775 621,779.5 C618.9,784 615.6,786.4 612.8,788.1 C610.1,789.7 606.7,791.3 604.6,789.3 C602.5,787.2 600.8,781.1 600.2,775.8 C599.6,770.5 600,763.6 600.8,757.5 C601.6,751.4 603,743.8 605,739.1 C607.1,734.5 610.6,730.7 613.2,729.5 C615.8,728.2 618.6,729.3 620.8,731.4 C623,733.5 625.5,737 626.3,741.9 C627.1,746.9 626.6,754.7 625.7,761Z" fill="#85752a"/></g>
<g clip-path="url(#cRockS)"><path d="M666,712.8 C666,711.1 669,708.8 670.8,706.8 C672.6,704.8 674.8,702.5 676.8,700.8 C678.8,699.1 680.2,697.2 682.8,696.6 C685.4,696 689.2,696.5 692.4,697.2 C695.6,697.9 699.7,699.2 702,700.8 C704.3,702.4 705.8,704.6 706.2,706.8 C706.6,709 705.5,712.3 704.4,714 C703.3,715.7 701.6,716.9 699.6,717 C697.6,717.1 695,715.1 692.4,714.6 C689.8,714.1 686.6,713.7 684,714 C681.4,714.3 679,715.9 676.8,716.4 C674.6,716.9 672.6,717.6 670.8,717 C669,716.4 666,714.5 666,712.8Z" fill="#7c7034"/><path d="M695.8,735.6 C695.8,738.7 695.3,742.5 694.1,744.8 C692.9,747.1 690.4,748.5 688.4,749.4 C686.3,750.4 683.7,751.4 681.8,750.6 C679.8,749.7 677.8,746.9 676.7,744.4 C675.5,741.9 675.1,738.6 675.1,735.6 C675,732.6 675.3,728.9 676.4,726.5 C677.5,724.1 679.9,722.1 681.9,721.3 C683.9,720.5 686.3,720.9 688.4,721.8 C690.4,722.6 692.9,724.1 694.1,726.4 C695.3,728.7 695.8,732.5 695.8,735.6Z" fill="#9c9052"/><path d="M651,726 C652,723.8 654.3,721.7 656.4,721.2 C658.5,720.7 662.1,721.2 663.6,723 C665.1,724.8 665,728.9 665.4,732 C665.8,735.1 665.2,738.4 666,741.6 C666.8,744.8 669.3,748.2 670.2,751.2 C671.1,754.2 671.7,757.4 671.4,759.6 C671.1,761.8 669.9,764 668.4,764.4 C666.9,764.8 664.3,763.8 662.4,762 C660.5,760.2 658.6,756.6 657,753.6 C655.4,750.6 653.9,747.2 652.8,744 C651.7,740.8 650.7,737.4 650.4,734.4 C650.1,731.4 650,728.2 651,726Z" fill="#7c7034"/><path d="M709.2,682.8 C709,679.6 710,676.3 711.6,674.4 C713.2,672.5 715.8,671.8 718.8,671.4 C721.8,671 727.8,668.1 729.6,672 C731.4,675.9 731.4,690.7 729.6,694.8 C727.8,698.9 721.6,696.8 718.8,696.6 C716,696.4 714.4,695.9 712.8,693.6 C711.2,691.3 709.4,686 709.2,682.8Z" fill="#5f5316"/><path d="M731.6,713.4 C731.6,715.7 731.4,718.6 730.7,720.4 C729.9,722.1 728.5,723.2 727.3,723.9 C726.1,724.7 724.5,725.4 723.4,724.8 C722.2,724.2 721,722 720.4,720.1 C719.7,718.2 719.4,715.7 719.4,713.4 C719.4,711.1 719.5,708.3 720.2,706.5 C720.9,704.7 722.3,703.2 723.5,702.6 C724.7,702 726.1,702.2 727.3,702.9 C728.5,703.5 729.9,704.7 730.7,706.4 C731.4,708.2 731.6,711.1 731.6,713.4Z" fill="#94884c"/><path d="M729,710 C729,712.4 728.6,715.5 727.6,717.3 C726.5,719.2 724.4,720.3 722.7,721.1 C720.9,721.8 718.7,722.7 717.1,722 C715.4,721.3 713.7,719.1 712.7,717.1 C711.8,715.1 711.4,712.4 711.4,710 C711.3,707.6 711.5,704.6 712.5,702.7 C713.5,700.8 715.5,699.2 717.2,698.6 C718.9,698 721,698.3 722.7,698.9 C724.4,699.6 726.5,700.8 727.6,702.7 C728.6,704.5 729,707.6 729,710Z" fill="#7c7034"/></g>
<g clip-path="url(#cBot)"><path d="M307.8,861 C307.5,862.4 306.6,864.1 304.7,864.9 C302.7,865.7 299.2,865.8 296.3,865.7 C293.3,865.7 289.6,865.5 287,864.6 C284.3,863.8 281.7,861.9 280.3,860.5 C279,859 278.6,857.3 278.8,855.9 C279,854.5 279.6,852.8 281.4,851.9 C283.2,851.1 286.8,850.7 289.6,850.9 C292.5,851 295.8,851.7 298.6,852.6 C301.3,853.5 304.7,854.9 306.2,856.3 C307.7,857.7 308,859.6 307.8,861Z" fill="#d5cfad" stroke="#5e5a3c" stroke-width="0.5"/><path d="M347,858 C347,859.6 346.4,861.6 344.6,862.8 C342.8,864 339.2,864.7 336.2,865.2 C333.2,865.7 329.4,866.2 326.6,865.8 C323.8,865.4 320.8,863.9 319.1,862.6 C317.5,861.3 316.9,859.6 316.8,858 C316.8,856.4 317.1,854.5 318.8,853.3 C320.4,852 323.9,851 326.8,850.6 C329.7,850.2 333.3,850.4 336.2,850.8 C339.2,851.2 342.8,852 344.6,853.2 C346.4,854.4 347,856.4 347,858Z" fill="#d5cfad" stroke="#5e5a3c" stroke-width="0.5"/><path d="M385.5,866.4 C384.3,868.2 382.3,870 380,870.4 C377.7,870.7 374.5,869.7 371.9,868.7 C369.3,867.7 366.1,866.3 364.3,864.3 C362.5,862.3 361.4,859.2 361.2,856.9 C361,854.6 361.9,852.4 363,850.7 C364.1,849 365.9,847 368.1,846.6 C370.2,846.1 373.6,846.8 376.1,847.8 C378.6,848.9 381.1,850.9 382.9,852.9 C384.8,855 386.9,857.7 387.3,859.9 C387.7,862.2 386.7,864.7 385.5,866.4Z" fill="#a8a384" stroke="#5e5a3c" stroke-width="0.5"/><path d="M409,860 C408.3,857.2 410.7,851.8 413,850 C415.3,848.2 419.7,848.8 423,849 C426.3,849.2 429.7,851.5 433,851 C436.3,850.5 440.3,845.8 443,846 C445.7,846.2 448.7,849.7 449,852 C449.3,854.3 447,857.3 445,860 C443,862.7 440,866.3 437,868 C434,869.7 430.3,870.2 427,870 C423.7,869.8 420,868.7 417,867 C414,865.3 409.7,862.8 409,860Z" fill="#8c876a" stroke="#5e5a3c" stroke-width="0.5"/><path d="M446,870 C444.7,867.5 447.2,864.6 449,863 C450.8,861.4 454,861 457,860.4 C460,859.8 463.7,859.3 467,859.6 C470.3,859.9 474.6,860.3 477,862 C479.4,863.7 481.1,867.5 481.4,870 C481.7,872.5 481.1,875.5 479,877 C476.9,878.5 472.7,878.8 469,879 C465.3,879.2 460.8,879.5 457,878 C453.2,876.5 447.3,872.5 446,870Z" fill="#747052" stroke="#5e5a3c" stroke-width="0.5"/><path d="M295.8,888.1 C296.6,892.7 297.2,898.5 296.6,902.2 C295.9,905.9 293.8,908.5 291.9,910.3 C290.1,912.2 287.7,914.1 285.5,913.2 C283.2,912.3 280.4,908.4 278.6,904.9 C276.8,901.3 275.4,896.3 274.6,891.8 C273.8,887.3 273,881.7 273.6,877.9 C274.1,874.1 276,870.6 277.9,869 C279.7,867.5 282.3,867.6 284.6,868.5 C286.9,869.4 289.8,871.3 291.7,874.5 C293.6,877.8 295,883.5 295.8,888.1Z" fill="#b4af90" stroke="#5e5a3c" stroke-width="0.5"/><path d="M330.1,884.5 C329.9,887.1 328.9,890.3 326.7,892.1 C324.5,893.9 320.3,894.7 316.8,895.2 C313.3,895.7 309,896.2 305.8,895.2 C302.6,894.2 299.4,891.5 297.8,889.3 C296.1,887 295.6,884.1 295.8,881.5 C295.9,879 296.6,875.9 298.7,874 C300.7,872.1 304.9,870.8 308.2,870.4 C311.6,870 315.6,870.7 318.9,871.7 C322.2,872.7 326.2,874.4 328,876.5 C329.9,878.6 330.4,881.9 330.1,884.5Z" fill="#6e6a4a" stroke="#5e5a3c" stroke-width="0.5"/><path d="M332,872 C332.7,871 336.2,869.2 339,869 C341.8,868.8 346,870.3 349,871 C352,871.7 354.3,873.5 357,873 C359.7,872.5 363,868.3 365,868 C367,867.7 368.5,869.2 369,871 C369.5,872.8 369,877 368,879 C367,881 365.5,882.4 363,883 C360.5,883.6 356.3,883.1 353,882.4 C349.7,881.7 346,880.2 343,879 C340,877.8 336.8,876.2 335,875 C333.2,873.8 331.3,873 332,872Z" fill="#9c977a" stroke="#5e5a3c" stroke-width="0.5"/><rect x="381" y="869" width="27" height="12" rx="4.5" ry="5" fill="#8f8a6c" stroke="#5e5a3c" stroke-width="0.5" transform="rotate(-3 395 875)"/><path d="M298,903 C298,901.5 302.2,899.3 305,899 C307.8,898.7 312,900.5 315,901 C318,901.5 320.3,902.3 323,902 C325.7,901.7 328.9,898.8 331,899 C333.1,899.2 334.9,901.2 335.4,903 C335.9,904.8 335.4,908.3 334,910 C332.6,911.7 330.2,912.7 327,913 C323.8,913.3 318.7,912.8 315,912 C311.3,911.2 307.8,909.5 305,908 C302.2,906.5 298,904.5 298,903Z" fill="#9c977a" stroke="#5e5a3c" stroke-width="0.5"/><path d="M337,896 C337,892.8 339.3,889.5 342,888 C344.7,886.5 348.5,887.1 353,887 C357.5,886.9 364.5,887.8 369,887.6 C373.5,887.4 377,885.3 380,886 C383,886.7 385.8,889.3 387,892 C388.2,894.7 388.4,899 387.4,902 C386.4,905 384.1,908.3 381,910 C377.9,911.7 373.7,912.1 369,912.4 C364.3,912.7 357.5,912.5 353,911.6 C348.5,910.7 344.7,909.6 342,907 C339.3,904.4 337,899.2 337,896Z" fill="#8c876a" stroke="#5e5a3c" stroke-width="0.5"/><path d="M416.2,904.8 C415.2,907.3 413.5,910.3 411.3,911.6 C409.1,913 405.6,913 402.8,912.9 C399.9,912.7 396.4,912.4 394.2,910.8 C392,909.3 390.3,906 389.7,903.4 C389.1,900.8 389.5,897.9 390.4,895.4 C391.2,892.9 392.6,889.9 394.8,888.5 C396.9,887.1 400.5,886.5 403.2,886.7 C406,887 408.8,888.4 411.1,890 C413.4,891.6 416,894 416.8,896.4 C417.7,898.9 417.1,902.3 416.2,904.8Z" fill="#a09b7c" stroke="#5e5a3c" stroke-width="0.5"/><path d="M418.6,904 C419,900.7 419.9,893.6 422,890 C424.1,886.4 427.2,883.7 431,882.4 C434.8,881.1 440.3,882 445,882.4 C449.7,882.8 455,884.1 459,885 C463,885.9 467.2,885.5 469,888 C470.8,890.5 470.7,896.5 470,900 C469.3,903.5 467.5,907.3 465,909 C462.5,910.7 459,909.3 455,910 C451,910.7 446,912.4 441,913 C436,913.6 428.6,914.1 425,913.6 C421.4,913.1 420.5,911.6 419.4,910 C418.3,908.4 418.2,907.3 418.6,904Z" fill="#b8b394" stroke="#5e5a3c" stroke-width="0.5"/><path d="M510.6,862.3 C511,864.7 510.9,867.8 509.4,870 C508,872.1 504.7,873.8 501.9,875.1 C499.1,876.4 495.5,877.8 492.6,877.7 C489.6,877.5 486.3,875.8 484.4,874.1 C482.4,872.4 481.3,869.9 480.8,867.6 C480.4,865.2 480.2,862.2 481.5,860.1 C482.8,857.9 486,855.7 488.7,854.6 C491.5,853.5 495,853.1 498,853.3 C501,853.5 504.8,854 506.9,855.5 C509,857 510.1,859.9 510.6,862.3Z" fill="#a8a384" stroke="#5e5a3c" stroke-width="0.5"/><path d="M512,875 C512.5,872.8 514.5,869.3 517,868 C519.5,866.7 523.7,866.8 527,867 C530.3,867.2 534,869.5 537,869 C540,868.5 542.4,864 545,864 C547.6,864 551.9,866.8 552.6,869 C553.3,871.2 550.9,874.5 549,877 C547.1,879.5 544,882.3 541,884 C538,885.7 534.3,886.8 531,887 C527.7,887.2 523.8,886 521,885 C518.2,884 515.5,882.7 514,881 C512.5,879.3 511.5,877.2 512,875Z" fill="#4e4a2a" stroke="#5e5a3c" stroke-width="0.5"/><path d="M504.2,892.2 C505.2,895 505.9,898.6 505.1,901.2 C504.3,903.9 501.7,906.2 499.5,908 C497.2,909.9 494.4,911.9 491.6,912.1 C488.9,912.2 485.5,910.6 483.3,908.8 C481,907.1 479.4,904.3 478.4,901.6 C477.3,898.9 476.4,895.5 477.1,892.8 C477.7,890.1 480,887.2 482.3,885.6 C484.5,884 487.6,883.2 490.4,883.1 C493.2,882.9 496.8,883.2 499.1,884.7 C501.4,886.2 503.2,889.5 504.2,892.2Z" fill="#9c977a" stroke="#5e5a3c" stroke-width="0.5"/><path d="M543.8,901.6 C543.8,904.1 543.2,907.3 541.5,909.2 C539.8,911.1 536.5,912.2 533.7,913 C530.9,913.8 527.4,914.7 524.7,914 C522.1,913.3 519.3,911 517.8,908.9 C516.2,906.8 515.6,904.1 515.6,901.6 C515.5,899.1 515.8,896.1 517.4,894.1 C519,892.1 522.2,890.5 525,889.8 C527.7,889.2 531,889.5 533.7,890.2 C536.5,890.9 539.8,892.1 541.5,894 C543.2,895.9 543.8,899.1 543.8,901.6Z" fill="#d5cfad" stroke="#5e5a3c" stroke-width="0.5"/><path d="M563.8,895.3 C563.5,898.8 562.6,903.1 561.2,905.6 C559.8,908.2 557.2,909.5 555.1,910.5 C553,911.4 550.4,912.3 548.5,911.2 C546.7,910.1 545,906.7 544.1,903.7 C543.3,900.8 543.2,896.9 543.5,893.5 C543.7,890.1 544.3,885.9 545.7,883.3 C547,880.7 549.6,878.6 551.6,877.8 C553.7,877.1 556,877.7 557.9,878.9 C559.8,880 562.1,881.9 563,884.7 C564,887.4 564.1,891.8 563.8,895.3Z" fill="#a8a384" stroke="#5e5a3c" stroke-width="0.5"/><path d="M553,860 C553.3,857.3 557.3,854.7 561,853 C564.7,851.3 571.3,849.8 575,850 C578.7,850.2 581.3,851.3 583,854 C584.7,856.7 584.5,862 585,866 C585.5,870 587,874.5 586,878 C585,881.5 581.5,885.2 579,887 C576.5,888.8 573,890.5 571,889 C569,887.5 569,881.3 567,878 C565,874.7 561.3,872 559,869 C556.7,866 552.7,862.7 553,860Z" fill="#bdb898" stroke="#5e5a3c" stroke-width="0.5"/><path d="M564,907 C564.7,905 568.8,901.7 571,899 C573.2,896.3 574.7,892.8 577,891 C579.3,889.2 582,888.2 585,888 C588,887.8 591.8,888.7 595,890 C598.2,891.3 602.7,893.5 604,896 C605.3,898.5 604.5,902.8 603,905 C601.5,907.2 598,908.7 595,909 C592,909.3 588.3,906.7 585,907 C581.7,907.3 578,910.3 575,911 C572,911.7 568.8,911.7 567,911 C565.2,910.3 563.3,909 564,907Z" fill="#6f6b4a" stroke="#5e5a3c" stroke-width="0.5"/><path d="M615,874 C613.7,876.8 611.5,880 609.1,881.5 C606.8,883 603.4,883 600.7,882.8 C597.9,882.6 594.6,882.1 592.7,880.3 C590.9,878.5 589.7,874.9 589.5,872 C589.3,869.1 590.3,865.8 591.5,863 C592.7,860.3 594.6,857 596.9,855.4 C599.2,853.8 602.8,853.2 605.4,853.6 C608,853.9 610.6,855.5 612.5,857.4 C614.4,859.2 616.6,861.9 617,864.7 C617.4,867.4 616.3,871.2 615,874Z" fill="#a8a384" stroke="#5e5a3c" stroke-width="0.5"/><path d="M619,856 C619.3,853.8 622.3,851.5 625,850 C627.7,848.5 632,847 635,847 C638,847 641.1,848.2 643,850 C644.9,851.8 646.9,855.7 646.6,858 C646.3,860.3 643.6,862.7 641,864 C638.4,865.3 634,866.2 631,866 C628,865.8 625,864.7 623,863 C621,861.3 618.7,858.2 619,856Z" fill="#747052" stroke="#5e5a3c" stroke-width="0.5"/><path d="M645,892.4 C645,896.5 644.2,901.6 641.8,904.6 C639.5,907.7 634.9,909.6 631,910.9 C627.1,912.1 622.2,913.5 618.5,912.4 C614.8,911.3 610.9,907.5 608.8,904.2 C606.7,900.8 605.9,896.4 605.8,892.4 C605.7,888.4 606.2,883.5 608.3,880.3 C610.5,877.1 615,874.4 618.8,873.4 C622.6,872.3 627.2,872.8 631,873.9 C634.8,875.1 639.5,877.1 641.8,880.2 C644.2,883.2 645,888.3 645,892.4Z" fill="#b4af90" stroke="#5e5a3c" stroke-width="0.5"/></g>
<g clip-path="url(#cBotS)"><path d="M678.9,869.7 C678.6,873.8 677.5,879 675.5,881.9 C673.5,884.9 669.9,886.5 666.8,887.5 C663.8,888.6 660,889.6 657.4,888.3 C654.7,886.9 652.2,882.8 650.9,879.3 C649.6,875.8 649.4,871.2 649.7,867.1 C649.9,863.1 650.7,858.1 652.6,855 C654.5,851.9 658.2,849.5 661.1,848.7 C664,847.8 667.4,848.6 670.1,850 C672.9,851.4 676.2,853.8 677.7,857.1 C679.1,860.4 679.3,865.6 678.9,869.7Z" fill="#706b55" stroke="#5e5a3c" stroke-width="0.5"/><path d="M680.7,827.8 C681.6,829.3 682.2,831.4 681.6,833.2 C681,835.1 678.9,837.2 677.1,838.9 C675.3,840.5 672.9,842.5 670.7,843.3 C668.5,844 665.6,843.8 663.8,843.3 C661.9,842.7 660.6,841.4 659.7,840 C658.8,838.5 658,836.6 658.5,834.8 C659,832.9 660.9,830.6 662.7,829 C664.5,827.4 667,826.2 669.3,825.4 C671.6,824.7 674.6,823.9 676.5,824.3 C678.4,824.7 679.9,826.3 680.7,827.8Z" fill="#a8a384" stroke="#5e5a3c" stroke-width="0.5"/><path d="M703.6,822.7 C703.9,826.1 703.8,830.4 702.9,833.1 C701.9,835.8 699.8,837.5 697.9,838.8 C696.1,840 693.8,841.4 691.8,840.6 C689.9,839.8 687.7,836.8 686.4,834.1 C685.1,831.4 684.4,827.8 684,824.4 C683.7,821.1 683.6,816.9 684.4,814.2 C685.3,811.4 687.3,809 689.1,808 C690.9,806.9 693.2,807.1 695.2,807.9 C697.2,808.7 699.7,810.2 701.1,812.6 C702.5,815.1 703.3,819.3 703.6,822.7Z" fill="#7f7a60" stroke="#5e5a3c" stroke-width="0.5"/><path d="M683,862 C683.7,860.2 685.5,856.7 688,854 C690.5,851.3 695.2,849 698,846 C700.8,843 703,837.8 705,836 C707,834.2 709.1,833.7 710,835 C710.9,836.3 711.2,841 710.4,844 C709.6,847 707.4,850.3 705,853 C702.6,855.7 698.8,858 696,860 C693.2,862 690.1,864.2 688,865 C685.9,865.8 684.4,865.5 683.6,865 C682.8,864.5 682.3,863.8 683,862Z" fill="#706b55" stroke="#5e5a3c" stroke-width="0.5"/><path d="M716.5,812.2 C717.4,815.5 718.2,819.7 717.9,822.5 C717.6,825.2 716.1,827.2 714.8,828.7 C713.5,830.2 711.9,831.8 710.1,831.3 C708.4,830.8 706,828.2 704.4,825.7 C702.8,823.2 701.5,819.7 700.6,816.5 C699.7,813.3 698.8,809.2 699,806.4 C699.2,803.6 700.5,800.9 701.8,799.6 C703.1,798.4 705,798.3 706.8,798.8 C708.6,799.3 711,800.4 712.6,802.7 C714.2,804.9 715.6,808.9 716.5,812.2Z" fill="#7f7a60" stroke="#5e5a3c" stroke-width="0.5"/><path d="M726.6,794.7 C726.3,797.3 725.7,800.5 724.7,802.4 C723.6,804.2 721.8,805.3 720.2,806 C718.7,806.7 716.8,807.4 715.4,806.5 C714.1,805.7 712.8,803.2 712.2,801 C711.6,798.8 711.5,795.9 711.7,793.4 C711.9,790.8 712.4,787.7 713.4,785.7 C714.4,783.8 716.2,782.2 717.7,781.7 C719.2,781.1 720.9,781.6 722.3,782.4 C723.7,783.3 725.3,784.7 726.1,786.8 C726.8,788.8 726.8,792.1 726.6,794.7Z" fill="#a8a384" stroke="#5e5a3c" stroke-width="0.5"/><path d="M730,821.6 C730,824 729.8,826.9 729.1,828.7 C728.5,830.5 727.2,831.6 726.1,832.3 C725,833.1 723.6,833.8 722.6,833.2 C721.5,832.5 720.5,830.3 719.9,828.4 C719.3,826.5 719,823.9 719,821.6 C719,819.3 719.1,816.4 719.7,814.6 C720.3,812.7 721.6,811.2 722.7,810.6 C723.7,810 725,810.2 726.1,810.9 C727.2,811.6 728.5,812.7 729.1,814.5 C729.8,816.3 730,819.2 730,821.6Z" fill="#706b55" stroke="#5e5a3c" stroke-width="0.5"/></g>
<path d="M272.79999999999995,842.4 V916.0 H647.4" fill="none" stroke="#8a8566" stroke-width="0.9"/>
<path d="M647.4,916.0 L727.2,832.7 V768" fill="none" stroke="#7d795f" stroke-width="0.8"/>
<path d="M647.4,420.8 V916.4" fill="none" stroke="#000" stroke-opacity="0.18" stroke-width="0.8"/>
<rect x="436.5" y="362.5" width="41.8" height="445.5" fill="url(#gTube)"/>
<ellipse cx="457.4" cy="808" rx="20.9" ry="2.6" fill="#9db7f3" stroke="#d0d0d0" stroke-width="1"/>
<ellipse cx="457.4" cy="362.6" rx="20.6" ry="2.4" fill="#6f95ec" stroke="#d9f0d9" stroke-width="1.2"/>
<path d="M458,389 L472,405.6 L464.8,405.6 L464.8,490 L451.2,490 L451.2,405.6 L444,405.6Z" fill="url(#gA0)"/>
<path d="M458,547 L472,563.6 L464.8,563.6 L464.8,648 L451.2,648 L451.2,563.6 L444,563.6Z" fill="url(#gA1)"/>
<path d="M458,721 L472,737.6 L464.8,737.6 L464.8,822 L451.2,822 L451.2,737.6 L444,737.6Z" fill="url(#gA2)"/>
<rect x="551.8" y="427" width="5" height="59.4" fill="#f1f1f1"/>
<path d="M551.8,431.5 H556.8" stroke="#c9c9c9" stroke-width="0.7"/>
<path d="M551.8,436.1 H556.8" stroke="#c9c9c9" stroke-width="0.7"/>
<path d="M551.8,440.7 H556.8" stroke="#c9c9c9" stroke-width="0.7"/>
<path d="M551.8,445.3 H556.8" stroke="#c9c9c9" stroke-width="0.7"/>
<path d="M551.8,449.9 H556.8" stroke="#c9c9c9" stroke-width="0.7"/>
<path d="M551.8,454.5 H556.8" stroke="#c9c9c9" stroke-width="0.7"/>
<path d="M551.8,459.1 H556.8" stroke="#c9c9c9" stroke-width="0.7"/>
<path d="M551.8,463.7 H556.8" stroke="#c9c9c9" stroke-width="0.7"/>
<path d="M551.8,468.3 H556.8" stroke="#c9c9c9" stroke-width="0.7"/>
<path d="M551.8,472.9 H556.8" stroke="#c9c9c9" stroke-width="0.7"/>
<path d="M551.8,477.5 H556.8" stroke="#c9c9c9" stroke-width="0.7"/>
<path d="M551.8,482.1 H556.8" stroke="#c9c9c9" stroke-width="0.7"/>
<rect x="615.0" y="427" width="5.2" height="59.4" fill="#f1f1f1"/>
<path d="M615.0,431.5 H620.2" stroke="#c9c9c9" stroke-width="0.7"/>
<path d="M615.0,436.1 H620.2" stroke="#c9c9c9" stroke-width="0.7"/>
<path d="M615.0,440.7 H620.2" stroke="#c9c9c9" stroke-width="0.7"/>
<path d="M615.0,445.3 H620.2" stroke="#c9c9c9" stroke-width="0.7"/>
<path d="M615.0,449.9 H620.2" stroke="#c9c9c9" stroke-width="0.7"/>
<path d="M615.0,454.5 H620.2" stroke="#c9c9c9" stroke-width="0.7"/>
<path d="M615.0,459.1 H620.2" stroke="#c9c9c9" stroke-width="0.7"/>
<path d="M615.0,463.7 H620.2" stroke="#c9c9c9" stroke-width="0.7"/>
<path d="M615.0,468.3 H620.2" stroke="#c9c9c9" stroke-width="0.7"/>
<path d="M615.0,472.9 H620.2" stroke="#c9c9c9" stroke-width="0.7"/>
<path d="M615.0,477.5 H620.2" stroke="#c9c9c9" stroke-width="0.7"/>
<path d="M615.0,482.1 H620.2" stroke="#c9c9c9" stroke-width="0.7"/>
<path d="M556.6,419 L614.8,419 L614.8,478 Q585.7,488 556.6,478Z" fill="url(#gGrayCyl)"/>
<path d="M556.6,426.5 Q585.7,429.1 614.8,426.5" fill="none" stroke="#6b6b6b" stroke-width="0.8"/>
<path d="M556.6,434 Q585.7,436.6 614.8,434" fill="none" stroke="#6b6b6b" stroke-width="0.8"/>
<path d="M556.6,441.5 Q585.7,444.1 614.8,441.5" fill="none" stroke="#6b6b6b" stroke-width="0.8"/>
<path d="M556.6,449 Q585.7,451.6 614.8,449" fill="none" stroke="#6b6b6b" stroke-width="0.8"/>
<path d="M556.6,456.5 Q585.7,459.1 614.8,456.5" fill="none" stroke="#6b6b6b" stroke-width="0.8"/>
<path d="M556.6,464 Q585.7,466.6 614.8,464" fill="none" stroke="#6b6b6b" stroke-width="0.8"/>
<path d="M556.6,471.5 Q585.7,474.1 614.8,471.5" fill="none" stroke="#6b6b6b" stroke-width="0.8"/>
<path d="M556.6,479 Q585.7,481.6 614.8,479" fill="none" stroke="#6b6b6b" stroke-width="0.8"/>
<path d="M560,420 V427.5" stroke="#6b6b6b" stroke-width="0.8"/>
<path d="M578,420 V427.5" stroke="#6b6b6b" stroke-width="0.8"/>
<path d="M596,420 V427.5" stroke="#6b6b6b" stroke-width="0.8"/>
<path d="M569,427.5 V435" stroke="#6b6b6b" stroke-width="0.8"/>
<path d="M587,427.5 V435" stroke="#6b6b6b" stroke-width="0.8"/>
<path d="M605,427.5 V435" stroke="#6b6b6b" stroke-width="0.8"/>
<path d="M560,435 V442.5" stroke="#6b6b6b" stroke-width="0.8"/>
<path d="M578,435 V442.5" stroke="#6b6b6b" stroke-width="0.8"/>
<path d="M596,435 V442.5" stroke="#6b6b6b" stroke-width="0.8"/>
<path d="M569,442.5 V450" stroke="#6b6b6b" stroke-width="0.8"/>
<path d="M587,442.5 V450" stroke="#6b6b6b" stroke-width="0.8"/>
<path d="M605,442.5 V450" stroke="#6b6b6b" stroke-width="0.8"/>
<path d="M560,450 V457.5" stroke="#6b6b6b" stroke-width="0.8"/>
<path d="M578,450 V457.5" stroke="#6b6b6b" stroke-width="0.8"/>
<path d="M596,450 V457.5" stroke="#6b6b6b" stroke-width="0.8"/>
<path d="M569,457.5 V465" stroke="#6b6b6b" stroke-width="0.8"/>
<path d="M587,457.5 V465" stroke="#6b6b6b" stroke-width="0.8"/>
<path d="M605,457.5 V465" stroke="#6b6b6b" stroke-width="0.8"/>
<path d="M560,465 V472.5" stroke="#6b6b6b" stroke-width="0.8"/>
<path d="M578,465 V472.5" stroke="#6b6b6b" stroke-width="0.8"/>
<path d="M596,465 V472.5" stroke="#6b6b6b" stroke-width="0.8"/>
<path d="M569,472.5 V480" stroke="#6b6b6b" stroke-width="0.8"/>
<path d="M587,472.5 V480" stroke="#6b6b6b" stroke-width="0.8"/>
<path d="M605,472.5 V480" stroke="#6b6b6b" stroke-width="0.8"/>
<path d="M553.6,367.6 L615.2,367.6 L615.2,420 Q584.6,423.4 553.6,420Z" fill="url(#gWhiteCyl)"/>
<path d="M555.4,376.4 Q584.6,379.2 613.8,376.4" fill="none" stroke="#b9b9b9" stroke-width="1"/>
<path d="M555.4,377.3 Q584.6,380.1 613.8,377.3" fill="none" stroke="#ffffff" stroke-width="0.6" opacity="0.8"/>
<path d="M555.4,384 Q584.6,386.8 613.8,384" fill="none" stroke="#b9b9b9" stroke-width="1"/>
<path d="M555.4,384.9 Q584.6,387.7 613.8,384.9" fill="none" stroke="#ffffff" stroke-width="0.6" opacity="0.8"/>
<path d="M555.4,391.4 Q584.6,394.2 613.8,391.4" fill="none" stroke="#b9b9b9" stroke-width="1"/>
<path d="M555.4,392.3 Q584.6,395.1 613.8,392.3" fill="none" stroke="#ffffff" stroke-width="0.6" opacity="0.8"/>
<path d="M555.4,399.2 Q584.6,402 613.8,399.2" fill="none" stroke="#b9b9b9" stroke-width="1"/>
<path d="M555.4,400.1 Q584.6,402.9 613.8,400.1" fill="none" stroke="#ffffff" stroke-width="0.6" opacity="0.8"/>
<path d="M555.4,406.2 Q584.6,409 613.8,406.2" fill="none" stroke="#b9b9b9" stroke-width="1"/>
<path d="M555.4,407.1 Q584.6,409.9 613.8,407.1" fill="none" stroke="#ffffff" stroke-width="0.6" opacity="0.8"/>
<path d="M555.4,413 Q584.6,415.8 613.8,413" fill="none" stroke="#b9b9b9" stroke-width="1"/>
<path d="M555.4,413.9 Q584.6,416.7 613.8,413.9" fill="none" stroke="#ffffff" stroke-width="0.6" opacity="0.8"/>
<path d="M573.4,371 V378" stroke="#b4b4b4" stroke-width="1"/>
<path d="M597,370.9 V377.9" stroke="#b4b4b4" stroke-width="1"/>
<path d="M563.4,377.5 V385.1" stroke="#b4b4b4" stroke-width="1"/>
<path d="M584.6,378.2 V385.8" stroke="#b4b4b4" stroke-width="1"/>
<path d="M606.2,377.4 V385" stroke="#b4b4b4" stroke-width="1"/>
<path d="M574.2,385.6 V393" stroke="#b4b4b4" stroke-width="1"/>
<path d="M599.4,385.4 V392.8" stroke="#b4b4b4" stroke-width="1"/>
<path d="M564.2,392.5 V400.3" stroke="#b4b4b4" stroke-width="1"/>
<path d="M586.6,393.2 V401" stroke="#b4b4b4" stroke-width="1"/>
<path d="M611,392.1 V399.9" stroke="#b4b4b4" stroke-width="1"/>
<path d="M572.6,400.8 V407.8" stroke="#b4b4b4" stroke-width="1"/>
<path d="M597.4,400.7 V407.7" stroke="#b4b4b4" stroke-width="1"/>
<path d="M561.4,407.1 V413.9" stroke="#b4b4b4" stroke-width="1"/>
<path d="M584.2,408 V414.8" stroke="#b4b4b4" stroke-width="1"/>
<path d="M608.6,407.1 V413.9" stroke="#b4b4b4" stroke-width="1"/>
<path d="M568.6,414.4 V421" stroke="#b4b4b4" stroke-width="1"/>
<path d="M593.4,414.7 V421.3" stroke="#b4b4b4" stroke-width="1"/>
<path d="M611.4,413.6 V420.2" stroke="#b4b4b4" stroke-width="1"/>
<ellipse cx="584.6" cy="367.5" rx="29.2" ry="3" fill="#f2f2f2"/>
<ellipse cx="584.8" cy="367.5" rx="27.4" ry="2.2" fill="url(#gRim)"/>
<rect x="545.2" y="336.6" width="8.8" height="90.6" rx="2" ry="1.6" fill="url(#gPost)"/>
<rect x="614.8" y="336.6" width="9" height="90.2" rx="2" ry="1.6" fill="url(#gPost)"/>
<path d="M554,347.2 H561 M608,347.2 H615" stroke="#d9d9d9" stroke-width="2"/>
<path d="M623.6,347.2 H629.5 Q633.6,347.6 634.4,352 Q635,358.8 638.6,360.4" fill="none" stroke="#dddddd" stroke-width="2"/>
<path d="M638.4,360.6 H646.4" stroke="#9a5a22" stroke-width="2.4" stroke-linecap="round"/>
<rect x="560.8" y="343" width="47.6" height="8" rx="1.8" fill="url(#gLog)"/>
<rect x="584.2" y="342.8" width="10.2" height="8.4" fill="#c6a877"/>
<path d="M586.6,343 V351 M589.2,343 V351 M591.8,343 V351" stroke="#b08d55" stroke-width="0.6"/>
<path d="M584.4,351 L584.8,369.6" stroke="#c9a77a" stroke-width="1.3"/>
<path d="M584.8,420.5 V426" stroke="#b5a58a" stroke-width="1"/>
<path d="M577.4,433 Q585,419 592.8,433" fill="none" stroke="#d2d2d2" stroke-width="1.1"/>
<path d="M577,432.8 L593.2,432.8 L590.8,446.6 Q585.1,449 579.4,446.6Z" fill="url(#gBucket)"/>
<ellipse cx="585.1" cy="432.9" rx="8.1" ry="1.5" fill="#8cc4ee" stroke="#b3a550" stroke-width="0.6"/>
<path d="M585.1,448 V453" stroke="#9a9a9a" stroke-width="0.7"/>
<path d="M585.7,453.8 L592.9000000000001,462.2 L588.8000000000001,462.2 L588.8000000000001,489 L582.6,489 L582.6,462.2 L578.5,462.2Z" fill="url(#gWA)"/>
<path d="M354.9,317.9 C354.4,320.1 356.3,324.9 357.1,328.8 C358,332.7 359.4,337.3 360,341.6 C360.6,345.9 360.6,350.4 360.5,354.4 C360.4,358.4 357.5,363.7 359.4,365.6 C361.3,367.5 370,367.3 371.8,365.6 C373.7,363.9 370.9,358.9 370.6,355.2 C370.2,351.5 370,346.9 369.6,343.2 C369.2,339.5 368.1,335.9 368,332.8 C367.9,329.7 367.6,326 369,324.8 C370.3,323.6 373.5,325.8 376,325.6 C378.5,325.4 381.5,324.5 384,323.7 C386.5,322.9 389.5,321.7 390.7,320.8 C391.9,319.9 392.2,318.3 391,318.2 C389.9,318.2 386.5,320 384,320.5 C381.5,321 378.4,321.3 376,321.1 C373.6,321 371,320.4 369.6,319.5 C368.2,318.7 369.3,316.6 367.7,316 C366.1,315.4 362.1,315.4 360,315.7 C357.9,316 355.4,315.7 354.9,317.9Z" fill="#9a4d20"/>
<path d="M341.4,319.5 C341.9,319 343.8,318.8 345.6,319.5 C347.4,320.2 350.1,321.9 352,323.7 C353.9,325.5 355.8,327.9 357.1,330.4 C358.5,332.9 360.1,336.9 360,338.4 C359.9,339.9 357.7,340.3 356.5,339.2 C355.3,338.1 354.2,334.1 352.8,332 C351.4,329.9 349.7,328.4 348,326.9 C346.3,325.3 343.8,323.9 342.7,322.7 C341.6,321.5 341,320.1 341.4,319.5Z" fill="#9a4d20"/>
<path d="M363.5,364.8 C362.9,362.5 364.5,355.6 364.5,351.2 C364.5,346.8 364.1,342.4 363.5,338.4 C363,334.4 361.9,330.3 361.3,327.2 C360.7,324.1 359.6,320.8 360,320 C360.4,319.2 362.5,320.4 363.5,322.4 C364.5,324.4 365.5,328.3 366.1,332 C366.7,335.7 366.9,340.5 367.2,344.8 C367.5,349.1 367.5,354.3 367.7,357.6 C367.9,360.9 369,363.6 368.3,364.8 C367.6,366 364.2,367.1 363.5,364.8Z" fill="#b7683a"/>
<path d="M344.8,320.5 C345.2,320.3 348.7,322.2 350.4,323.7 C352.1,325.2 353.9,327.7 355.2,329.6 C356.5,331.5 357.8,334.2 358.1,335.2 C358.3,336.2 357.7,336.5 356.8,335.5 C355.9,334.6 354.3,331.4 352.8,329.6 C351.3,327.8 349.3,326.3 348,324.8 C346.7,323.3 344.4,320.7 344.8,320.5Z" fill="#b7683a"/>
<path d="M360,358 L358.8,365.2 L356.4,368.8 L361.2,371.2 L363.6,365.8 L366,358Z" fill="#9a4d20"/>
<path d="M368.4,358 L369,365.2 L367.5,370 L369.6,369.4 L371.4,364 L370.8,358Z" fill="#9a4d20"/>
<path d="M371.4,360.4 L375.6,363.4 L379.2,366.4 L378,367 L373.8,365.2 L371.4,366.4Z" fill="#a0402a"/>
<path d="M357.6,362.8 L354,366.4 L355.2,369.4 L357,366.4Z" fill="#a02820"/>
<path d="M350.4,368.2 L348.6,370.6 L349.8,371.2Z" fill="#a02820"/>
<path d="M382.8,367 L384,369.1 L384.9,368.2Z" fill="#a0402a"/>
<path d="M340.2,372.4 L346.2,363.1 L347.7,367.9 L351.3,359.3 L353.1,366.4 L356.4,364 L358.2,368.2 L361.2,371.2 L363.6,364 L365.7,355.3 L367.8,368.2 L369.6,368.8 L371.4,359.8 L372,367 L375.6,364 L376.8,368.2 L384,373.6Z" fill="#15b619"/>
<path d="M321.3,281.6 C320.5,278.5 322.4,272.7 323.5,268.8 C324.6,264.9 325.9,261.3 328,258.4 C330.1,255.5 332.8,253.2 336,251.2 C339.2,249.2 343.7,247.4 347.2,246.4 C350.7,245.4 354.1,246.3 356.8,245.3 C359.5,244.2 360.5,241.1 363.2,240 C365.9,238.9 369.6,238.5 372.8,238.9 C376,239.3 379.7,240.2 382.4,242.4 C385.1,244.6 386.7,249.2 388.8,252 C390.9,254.8 392.8,257.4 395.2,259.2 C397.6,261 401.3,260.6 403.2,262.9 C405.1,265.1 406.9,269.8 406.7,272.8 C406.6,275.8 402.2,278.1 402.4,280.8 C402.6,283.5 406.1,286.7 408,288.8 C409.9,290.9 412.3,291.5 413.6,293.6 C414.9,295.7 416.1,299.3 416,301.6 C415.9,303.9 415.2,305.3 412.8,307.2 C410.4,309.1 406.4,311.3 401.6,312.8 C396.8,314.3 389.3,316.5 384,316 C378.7,315.5 374.1,313.1 369.6,309.6 C365.1,306.1 361.6,298.7 356.8,295.2 C352,291.7 345.6,290.1 340.8,288.8 C336,287.5 331.3,288.4 328,287.2 C324.7,286 322,284.7 321.3,281.6Z" fill="#12c017"/>
<path d="M364.8,312.8 C364,310.3 367.7,306.1 369.6,303.2 C371.5,300.3 373.6,296.9 376,295.2 C378.4,293.5 381.3,292.9 384,292.8 C386.7,292.7 389.1,293.2 392,294.4 C394.9,295.6 398.4,298.5 401.6,300 C404.8,301.5 409.3,301.6 411.2,303.2 C413.1,304.8 414.2,307.9 413.1,309.6 C412.1,311.3 407.5,312.1 404.8,313.1 C402.1,314.2 399.2,314.9 396.8,316 C394.4,317.1 392.8,318.8 390.4,319.5 C388,320.2 385.1,320.6 382.4,320.3 C379.7,320.1 377.3,319.2 374.4,317.9 C371.5,316.7 365.6,315.3 364.8,312.8Z" fill="#12a015"/>
<path d="M391.7,301.9 C391.6,300.6 393.2,297.5 394.9,296.2 C396.5,294.8 399.4,293.8 401.6,293.9 C403.8,294 406.6,295.5 408,296.8 C409.4,298.1 410.9,300.8 409.9,301.6 C408.9,302.4 404.3,301.2 401.9,301.6 C399.5,302 397.2,304.1 395.5,304.2 C393.8,304.2 391.8,303.3 391.7,301.9Z" fill="#7fd45e"/>
<path d="M312,316 C311.7,315.2 316,318.2 318.4,319.2 C320.8,320.2 323.7,321.6 326.4,322.1 C329.1,322.6 331.9,322.6 334.4,322.1 C336.9,321.5 340.8,318.6 341.6,318.9 C342.4,319.2 340.7,322.7 339.2,324 C337.7,325.3 334.9,325.9 332.8,326.4 C330.7,326.9 328.5,327.3 326.4,326.9 C324.3,326.5 322.4,325.8 320,324 C317.6,322.2 312.3,316.8 312,316Z" fill="#5bb052"/>
<path d="M296.6,295.2 C296.5,292.3 297.3,289.5 298.4,287.2 C299.5,284.9 300.9,282.8 303.2,281.6 C305.5,280.4 308.9,280 312,280 C315.1,280 318.7,281.6 321.6,281.6 C324.5,281.6 326.4,279.3 329.6,280 C332.8,280.7 338.4,284.9 340.8,285.6 C343.2,286.3 342.4,284 344,284 C345.6,284 348.5,285.1 350.4,285.6 C352.3,286.1 352.5,287.3 355.2,287.2 C357.9,287.1 363.5,285.3 366.4,284.8 C369.3,284.3 370.8,283.5 372.8,284 C374.8,284.5 377.3,286.4 378.4,288 C379.5,289.6 380.2,291.6 379.5,293.6 C378.9,295.6 376.1,297.9 374.4,300 C372.7,302.1 371.2,304.3 369.6,306.4 C368,308.5 366.9,311.2 364.8,312.8 C362.7,314.4 359.5,315.1 356.8,316 C354.1,316.9 351.5,317.4 348.8,317.9 C346.1,318.4 343.2,318.2 340.8,318.9 C338.4,319.6 336.8,321.5 334.4,322.1 C332,322.6 329.1,322.5 326.4,322.1 C323.7,321.7 321.1,320.5 318.4,319.5 C315.7,318.6 312.8,317.7 310.4,316.5 C308,315.3 305.9,314.4 304,312.5 C302.1,310.5 300.4,307.7 299.2,304.8 C298,301.9 296.8,298.1 296.6,295.2Z" fill="#6fdc70" stroke="#3cae40" stroke-width="0.4"/>
<path d="M456.2,360 C456.3,359.8 455.6,353.3 455.2,350 C454.8,346.7 454.6,343 454,340 C453.4,337 452.5,334.2 451.5,332 C450.5,329.8 449.6,328.2 448,327 C446.4,325.8 444.2,324.5 442,324.5 C439.8,324.5 437,325.6 435,327 C433,328.4 431.2,330.7 430,333 C428.8,335.3 427.9,338.8 428,341 C428.1,343.2 429,345.4 430.5,346.5 C432,347.6 434.9,347.9 437,347.5 C439.1,347.1 441.2,345.6 443,344 C444.8,342.4 446.5,339.6 448,338 C449.5,336.4 450.9,333.8 451.8,334.5 C452.7,335.2 453,339.2 453.5,342 C454,344.8 454.4,348 454.8,351 C455.2,354 456.1,360.2 456.2,360Z" fill="url(#gDrop)"/>
<path d="M457,360 C457.2,357.8 459,350.2 460,346 C461,341.8 461.8,337.8 463,335 C464.2,332.2 465.2,330.6 467,329 C468.8,327.4 471.7,325.8 474,325.5 C476.3,325.2 478.8,326.2 481,327.5 C483.2,328.8 485.8,330.9 487,333 C488.2,335.1 488.7,337.8 488.5,340 C488.3,342.2 487.4,344.7 486,346 C484.6,347.3 481.8,348.2 480,348 C478.2,347.8 476.2,346.5 475,345 C473.8,343.5 474,340.7 473,339 C472,337.3 470.4,335.3 469,335 C467.6,334.7 465.8,335.2 464.5,337 C463.2,338.8 462.5,342.3 461.5,346 C460.5,349.7 459.2,356.7 458.5,359 C457.8,361.3 456.8,362.2 457,360Z" fill="url(#gDrop)"/>
<path d="M455.6,356 C455.4,352.5 455.4,340.5 455.2,335 C455,329.5 454.7,325.5 454.2,323 C453.7,320.5 453.2,320.4 452.2,320 C451.2,319.6 449.4,321 448,320.8 C446.6,320.6 444.9,320 444,319 C443.1,318 442.5,316.2 442.6,315 C442.7,313.8 443.5,312.5 444.5,311.8 C445.5,311.1 447.2,310.6 448.5,310.8 C449.8,311 451.4,311.7 452.5,312.8 C453.6,313.9 454.2,314.6 454.8,317.5 C455.4,320.4 455.9,323.6 456.2,330 C456.5,336.4 456.7,351.7 456.6,356 C456.5,360.3 455.8,359.5 455.6,356Z" fill="url(#gDrop)"/>
<path d="M457.4,356 C457.5,352 458.9,337.8 459.6,332 C460.3,326.2 460.7,323.8 461.8,321 C462.9,318.2 464.3,316.5 466,315 C467.7,313.5 470,312.2 472,312 C474,311.8 476.4,312.5 478,313.5 C479.6,314.5 481.4,316.6 481.6,318 C481.8,319.4 480.6,321.3 479.2,321.8 C477.8,322.3 475,321.6 473,321.2 C471,320.8 468.7,319 467.2,319.2 C465.7,319.4 464.7,320.1 463.8,322.2 C462.9,324.3 462.6,326.4 461.8,332 C461,337.6 459.5,352 458.8,356 C458.1,360 457.3,360 457.4,356Z" fill="url(#gDrop)"/>
<path d="M460.3,314.8 C459.8,314.3 461.1,310.4 461.8,308.5 C462.5,306.6 463.4,304.4 464.5,303.2 C465.6,301.9 467.3,301 468.5,301 C469.7,301 470.9,302 471.5,303 C472.1,304 472.4,305.8 472,307 C471.6,308.2 470.4,309.2 469.2,310 C468,310.8 466.5,310.7 465,311.5 C463.5,312.3 460.8,315.3 460.3,314.8Z" fill="url(#gDrop)"/>
<ellipse cx="432.5" cy="339" rx="1.8" ry="2.8" fill="#ffffff" opacity="0.45"/>
<ellipse cx="484.5" cy="338" rx="1.4" ry="2.8" fill="#ffffff" opacity="0.45"/>
<ellipse cx="445.2" cy="314.5" rx="1.4" ry="1.0" fill="#ffffff" opacity="0.45"/>
<ellipse cx="476.8" cy="316.2" rx="1.4" ry="1.0" fill="#ffffff" opacity="0.45"/>
<ellipse cx="468.8" cy="305" rx="1.2" ry="1.2" fill="#ffffff" opacity="0.45"/>
<path d="M732.2,361.6 H754.6 V400.4 H732.2" fill="none" stroke="#2a2a2a" stroke-width="1.3"/>
<path d="M732.2,574 H754.6 V643 H732.2" fill="none" stroke="#2a2a2a" stroke-width="1.3"/>
<path d="M732.2,767 H754.6 V831 H732.2" fill="none" stroke="#2a2a2a" stroke-width="1.3"/>
<path d="M268,420 H246.5 V438 H268" fill="none" stroke="#2a2a2a" stroke-width="1.3"/>
<path d="M268,516.6 H246.5 V652 H268" fill="none" stroke="#2a2a2a" stroke-width="1.3"/>
<path d="M268,723 H246.5 V804 H268" fill="none" stroke="#2a2a2a" stroke-width="1.3"/>
<text x="764" y="388.2" font-family="'Liberation Sans', Arial, sans-serif" font-size="23.4" fill="#111" text-anchor="start" textLength="47" lengthAdjust="spacingAndGlyphs">Sand</text>
<text x="764" y="615.8" font-family="'Liberation Sans', Arial, sans-serif" font-size="23.4" fill="#111" text-anchor="start" textLength="40" lengthAdjust="spacingAndGlyphs">Clay</text>
<text x="765" y="790" font-family="'Liberation Sans', Arial, sans-serif" font-size="23.4" fill="#111" text-anchor="start" textLength="97" lengthAdjust="spacingAndGlyphs">Waterproof</text>
<text x="764" y="814" font-family="'Liberation Sans', Arial, sans-serif" font-size="23.4" fill="#111" text-anchor="start" textLength="44" lengthAdjust="spacingAndGlyphs">layer</text>
<text x="199" y="435.8" font-family="'Liberation Sans', Arial, sans-serif" font-size="23.4" fill="#111" text-anchor="start" textLength="34" lengthAdjust="spacingAndGlyphs">Soil</text>
<text x="181" y="591.8" font-family="'Liberation Sans', Arial, sans-serif" font-size="23.4" fill="#111" text-anchor="start" textLength="50" lengthAdjust="spacingAndGlyphs">Loam</text>
<text x="186" y="765.8" font-family="'Liberation Sans', Arial, sans-serif" font-size="23.4" fill="#111" text-anchor="start" textLength="46" lengthAdjust="spacingAndGlyphs">Rock</text>
<text x="535.2" y="509.8" font-family="'Liberation Sans', Arial, sans-serif" font-size="22" fill="#fff" text-anchor="start" textLength="100.4" lengthAdjust="spacingAndGlyphs">Groundwater</text>
<text x="396.6" y="833" font-family="'Liberation Sans', Arial, sans-serif" font-size="22" fill="#fff" text-anchor="start" textLength="121.2" lengthAdjust="spacingAndGlyphs">Artesian aquifer</text>
<g font-family="'Liberation Sans', Arial, sans-serif" font-weight="bold" font-size="24.5" fill="none" stroke="#000" stroke-opacity="0.026" stroke-width="3.6" stroke-linejoin="round"><text transform="translate(-116.8,9.5) rotate(-42.6)" textLength="156" lengthAdjust="spacingAndGlyphs">Adobe Stock</text><text transform="translate(11.3,51.7) rotate(-42.6)" textLength="156" lengthAdjust="spacingAndGlyphs">Adobe Stock</text><text transform="translate(-107.5,340.8) rotate(-42.6)" textLength="156" lengthAdjust="spacingAndGlyphs">Adobe Stock</text><text transform="translate(53.5,179.8) rotate(-42.6)" textLength="156" lengthAdjust="spacingAndGlyphs">Adobe Stock</text><text transform="translate(214.5,18.8) rotate(-42.6)" textLength="156" lengthAdjust="spacingAndGlyphs">Adobe Stock</text><text transform="translate(-140.4,544) rotate(-42.6)" textLength="156" lengthAdjust="spacingAndGlyphs">Adobe Stock</text><text transform="translate(20.6,383) rotate(-42.6)" textLength="156" lengthAdjust="spacingAndGlyphs">Adobe Stock</text><text transform="translate(181.6,222) rotate(-42.6)" textLength="156" lengthAdjust="spacingAndGlyphs">Adobe Stock</text><text transform="translate(342.6,61) rotate(-42.6)" textLength="156" lengthAdjust="spacingAndGlyphs">Adobe Stock</text><text transform="translate(-98.2,672.1) rotate(-42.6)" textLength="156" lengthAdjust="spacingAndGlyphs">Adobe Stock</text><text transform="translate(62.8,511.1) rotate(-42.6)" textLength="156" lengthAdjust="spacingAndGlyphs">Adobe Stock</text><text transform="translate(223.8,350.1) rotate(-42.6)" textLength="156" lengthAdjust="spacingAndGlyphs">Adobe Stock</text><text transform="translate(384.8,189.1) rotate(-42.6)" textLength="156" lengthAdjust="spacingAndGlyphs">Adobe Stock</text><text transform="translate(545.8,28.1) rotate(-42.6)" textLength="156" lengthAdjust="spacingAndGlyphs">Adobe Stock</text><text transform="translate(-131.1,875.3) rotate(-42.6)" textLength="156" lengthAdjust="spacingAndGlyphs">Adobe Stock</text><text transform="translate(29.9,714.3) rotate(-42.6)" textLength="156" lengthAdjust="spacingAndGlyphs">Adobe Stock</text><text transform="translate(190.9,553.3) rotate(-42.6)" textLength="156" lengthAdjust="spacingAndGlyphs">Adobe Stock</text><text transform="translate(351.9,392.3) rotate(-42.6)" textLength="156" lengthAdjust="spacingAndGlyphs">Adobe Stock</text><text transform="translate(512.9,231.3) rotate(-42.6)" textLength="156" lengthAdjust="spacingAndGlyphs">Adobe Stock</text><text transform="translate(673.9,70.3) rotate(-42.6)" textLength="156" lengthAdjust="spacingAndGlyphs">Adobe Stock</text><text transform="translate(-88.9,1003.4) rotate(-42.6)" textLength="156" lengthAdjust="spacingAndGlyphs">Adobe Stock</text><text transform="translate(72.1,842.4) rotate(-42.6)" textLength="156" lengthAdjust="spacingAndGlyphs">Adobe Stock</text><text transform="translate(233.1,681.4) rotate(-42.6)" textLength="156" lengthAdjust="spacingAndGlyphs">Adobe Stock</text><text transform="translate(394.1,520.4) rotate(-42.6)" textLength="156" lengthAdjust="spacingAndGlyphs">Adobe Stock</text><text transform="translate(555.1,359.4) rotate(-42.6)" textLength="156" lengthAdjust="spacingAndGlyphs">Adobe Stock</text><text transform="translate(716.1,198.4) rotate(-42.6)" textLength="156" lengthAdjust="spacingAndGlyphs">Adobe Stock</text><text transform="translate(877.1,37.4) rotate(-42.6)" textLength="156" lengthAdjust="spacingAndGlyphs">Adobe Stock</text><text transform="translate(39.2,1045.6) rotate(-42.6)" textLength="156" lengthAdjust="spacingAndGlyphs">Adobe Stock</text><text transform="translate(200.2,884.6) rotate(-42.6)" textLength="156" lengthAdjust="spacingAndGlyphs">Adobe Stock</text><text transform="translate(361.2,723.6) rotate(-42.6)" textLength="156" lengthAdjust="spacingAndGlyphs">Adobe Stock</text><text transform="translate(522.2,562.6) rotate(-42.6)" textLength="156" lengthAdjust="spacingAndGlyphs">Adobe Stock</text><text transform="translate(683.2,401.6) rotate(-42.6)" textLength="156" lengthAdjust="spacingAndGlyphs">Adobe Stock</text><text transform="translate(844.2,240.6) rotate(-42.6)" textLength="156" lengthAdjust="spacingAndGlyphs">Adobe Stock</text><text transform="translate(1005.2,79.6) rotate(-42.6)" textLength="156" lengthAdjust="spacingAndGlyphs">Adobe Stock</text><text transform="translate(242.4,1012.7) rotate(-42.6)" textLength="156" lengthAdjust="spacingAndGlyphs">Adobe Stock</text><text transform="translate(403.4,851.7) rotate(-42.6)" textLength="156" lengthAdjust="spacingAndGlyphs">Adobe Stock</text><text transform="translate(564.4,690.7) rotate(-42.6)" textLength="156" lengthAdjust="spacingAndGlyphs">Adobe Stock</text><text transform="translate(725.4,529.7) rotate(-42.6)" textLength="156" lengthAdjust="spacingAndGlyphs">Adobe Stock</text><text transform="translate(886.4,368.7) rotate(-42.6)" textLength="156" lengthAdjust="spacingAndGlyphs">Adobe Stock</text><text transform="translate(370.5,1054.9) rotate(-42.6)" textLength="156" lengthAdjust="spacingAndGlyphs">Adobe Stock</text><text transform="translate(531.5,893.9) rotate(-42.6)" textLength="156" lengthAdjust="spacingAndGlyphs">Adobe Stock</text><text transform="translate(692.5,732.9) rotate(-42.6)" textLength="156" lengthAdjust="spacingAndGlyphs">Adobe Stock</text><text transform="translate(853.5,571.9) rotate(-42.6)" textLength="156" lengthAdjust="spacingAndGlyphs">Adobe Stock</text><text transform="translate(1014.5,410.9) rotate(-42.6)" textLength="156" lengthAdjust="spacingAndGlyphs">Adobe Stock</text><text transform="translate(573.7,1022) rotate(-42.6)" textLength="156" lengthAdjust="spacingAndGlyphs">Adobe Stock</text><text transform="translate(734.7,861) rotate(-42.6)" textLength="156" lengthAdjust="spacingAndGlyphs">Adobe Stock</text><text transform="translate(895.7,700) rotate(-42.6)" textLength="156" lengthAdjust="spacingAndGlyphs">Adobe Stock</text><text transform="translate(701.8,1064.2) rotate(-42.6)" textLength="156" lengthAdjust="spacingAndGlyphs">Adobe Stock</text><text transform="translate(862.8,903.2) rotate(-42.6)" textLength="156" lengthAdjust="spacingAndGlyphs">Adobe Stock</text><text transform="translate(1023.8,742.2) rotate(-42.6)" textLength="156" lengthAdjust="spacingAndGlyphs">Adobe Stock</text><text transform="translate(905,1031.3) rotate(-42.6)" textLength="156" lengthAdjust="spacingAndGlyphs">Adobe Stock</text><text transform="translate(1033.1,1073.5) rotate(-42.6)" textLength="156" lengthAdjust="spacingAndGlyphs">Adobe Stock</text></g>
<g font-family="'Liberation Sans', Arial, sans-serif" font-weight="bold" font-size="24.5" fill="#fff" fill-opacity="0.14" stroke="#fff" stroke-opacity="0.08" stroke-width="0.8"><text transform="translate(-116.8,9.5) rotate(-42.6)" textLength="156" lengthAdjust="spacingAndGlyphs">Adobe Stock</text><text transform="translate(11.3,51.7) rotate(-42.6)" textLength="156" lengthAdjust="spacingAndGlyphs">Adobe Stock</text><text transform="translate(-107.5,340.8) rotate(-42.6)" textLength="156" lengthAdjust="spacingAndGlyphs">Adobe Stock</text><text transform="translate(53.5,179.8) rotate(-42.6)" textLength="156" lengthAdjust="spacingAndGlyphs">Adobe Stock</text><text transform="translate(214.5,18.8) rotate(-42.6)" textLength="156" lengthAdjust="spacingAndGlyphs">Adobe Stock</text><text transform="translate(-140.4,544) rotate(-42.6)" textLength="156" lengthAdjust="spacingAndGlyphs">Adobe Stock</text><text transform="translate(20.6,383) rotate(-42.6)" textLength="156" lengthAdjust="spacingAndGlyphs">Adobe Stock</text><text transform="translate(181.6,222) rotate(-42.6)" textLength="156" lengthAdjust="spacingAndGlyphs">Adobe Stock</text><text transform="translate(342.6,61) rotate(-42.6)" textLength="156" lengthAdjust="spacingAndGlyphs">Adobe Stock</text><text transform="translate(-98.2,672.1) rotate(-42.6)" textLength="156" lengthAdjust="spacingAndGlyphs">Adobe Stock</text><text transform="translate(62.8,511.1) rotate(-42.6)" textLength="156" lengthAdjust="spacingAndGlyphs">Adobe Stock</text><text transform="translate(223.8,350.1) rotate(-42.6)" textLength="156" lengthAdjust="spacingAndGlyphs">Adobe Stock</text><text transform="translate(384.8,189.1) rotate(-42.6)" textLength="156" lengthAdjust="spacingAndGlyphs">Adobe Stock</text><text transform="translate(545.8,28.1) rotate(-42.6)" textLength="156" lengthAdjust="spacingAndGlyphs">Adobe Stock</text><text transform="translate(-131.1,875.3) rotate(-42.6)" textLength="156" lengthAdjust="spacingAndGlyphs">Adobe Stock</text><text transform="translate(29.9,714.3) rotate(-42.6)" textLength="156" lengthAdjust="spacingAndGlyphs">Adobe Stock</text><text transform="translate(190.9,553.3) rotate(-42.6)" textLength="156" lengthAdjust="spacingAndGlyphs">Adobe Stock</text><text transform="translate(351.9,392.3) rotate(-42.6)" textLength="156" lengthAdjust="spacingAndGlyphs">Adobe Stock</text><text transform="translate(512.9,231.3) rotate(-42.6)" textLength="156" lengthAdjust="spacingAndGlyphs">Adobe Stock</text><text transform="translate(673.9,70.3) rotate(-42.6)" textLength="156" lengthAdjust="spacingAndGlyphs">Adobe Stock</text><text transform="translate(-88.9,1003.4) rotate(-42.6)" textLength="156" lengthAdjust="spacingAndGlyphs">Adobe Stock</text><text transform="translate(72.1,842.4) rotate(-42.6)" textLength="156" lengthAdjust="spacingAndGlyphs">Adobe Stock</text><text transform="translate(233.1,681.4) rotate(-42.6)" textLength="156" lengthAdjust="spacingAndGlyphs">Adobe Stock</text><text transform="translate(394.1,520.4) rotate(-42.6)" textLength="156" lengthAdjust="spacingAndGlyphs">Adobe Stock</text><text transform="translate(555.1,359.4) rotate(-42.6)" textLength="156" lengthAdjust="spacingAndGlyphs">Adobe Stock</text><text transform="translate(716.1,198.4) rotate(-42.6)" textLength="156" lengthAdjust="spacingAndGlyphs">Adobe Stock</text><text transform="translate(877.1,37.4) rotate(-42.6)" textLength="156" lengthAdjust="spacingAndGlyphs">Adobe Stock</text><text transform="translate(39.2,1045.6) rotate(-42.6)" textLength="156" lengthAdjust="spacingAndGlyphs">Adobe Stock</text><text transform="translate(200.2,884.6) rotate(-42.6)" textLength="156" lengthAdjust="spacingAndGlyphs">Adobe Stock</text><text transform="translate(361.2,723.6) rotate(-42.6)" textLength="156" lengthAdjust="spacingAndGlyphs">Adobe Stock</text><text transform="translate(522.2,562.6) rotate(-42.6)" textLength="156" lengthAdjust="spacingAndGlyphs">Adobe Stock</text><text transform="translate(683.2,401.6) rotate(-42.6)" textLength="156" lengthAdjust="spacingAndGlyphs">Adobe Stock</text><text transform="translate(844.2,240.6) rotate(-42.6)" textLength="156" lengthAdjust="spacingAndGlyphs">Adobe Stock</text><text transform="translate(1005.2,79.6) rotate(-42.6)" textLength="156" lengthAdjust="spacingAndGlyphs">Adobe Stock</text><text transform="translate(242.4,1012.7) rotate(-42.6)" textLength="156" lengthAdjust="spacingAndGlyphs">Adobe Stock</text><text transform="translate(403.4,851.7) rotate(-42.6)" textLength="156" lengthAdjust="spacingAndGlyphs">Adobe Stock</text><text transform="translate(564.4,690.7) rotate(-42.6)" textLength="156" lengthAdjust="spacingAndGlyphs">Adobe Stock</text><text transform="translate(725.4,529.7) rotate(-42.6)" textLength="156" lengthAdjust="spacingAndGlyphs">Adobe Stock</text><text transform="translate(886.4,368.7) rotate(-42.6)" textLength="156" lengthAdjust="spacingAndGlyphs">Adobe Stock</text><text transform="translate(370.5,1054.9) rotate(-42.6)" textLength="156" lengthAdjust="spacingAndGlyphs">Adobe Stock</text><text transform="translate(531.5,893.9) rotate(-42.6)" textLength="156" lengthAdjust="spacingAndGlyphs">Adobe Stock</text><text transform="translate(692.5,732.9) rotate(-42.6)" textLength="156" lengthAdjust="spacingAndGlyphs">Adobe Stock</text><text transform="translate(853.5,571.9) rotate(-42.6)" textLength="156" lengthAdjust="spacingAndGlyphs">Adobe Stock</text><text transform="translate(1014.5,410.9) rotate(-42.6)" textLength="156" lengthAdjust="spacingAndGlyphs">Adobe Stock</text><text transform="translate(573.7,1022) rotate(-42.6)" textLength="156" lengthAdjust="spacingAndGlyphs">Adobe Stock</text><text transform="translate(734.7,861) rotate(-42.6)" textLength="156" lengthAdjust="spacingAndGlyphs">Adobe Stock</text><text transform="translate(895.7,700) rotate(-42.6)" textLength="156" lengthAdjust="spacingAndGlyphs">Adobe Stock</text><text transform="translate(701.8,1064.2) rotate(-42.6)" textLength="156" lengthAdjust="spacingAndGlyphs">Adobe Stock</text><text transform="translate(862.8,903.2) rotate(-42.6)" textLength="156" lengthAdjust="spacingAndGlyphs">Adobe Stock</text><text transform="translate(1023.8,742.2) rotate(-42.6)" textLength="156" lengthAdjust="spacingAndGlyphs">Adobe Stock</text><text transform="translate(905,1031.3) rotate(-42.6)" textLength="156" lengthAdjust="spacingAndGlyphs">Adobe Stock</text><text transform="translate(1033.1,1073.5) rotate(-42.6)" textLength="156" lengthAdjust="spacingAndGlyphs">Adobe Stock</text></g>
<text transform="translate(29.2,985.6) rotate(-90)" font-family="'Liberation Sans', Arial, sans-serif" font-size="19.2" fill="#3c3c3c" stroke="#3c3c3c" stroke-width="0.45" textLength="224" lengthAdjust="spacingAndGlyphs">Adobe Stock | #474407786</text>
</svg>
</body></html>
